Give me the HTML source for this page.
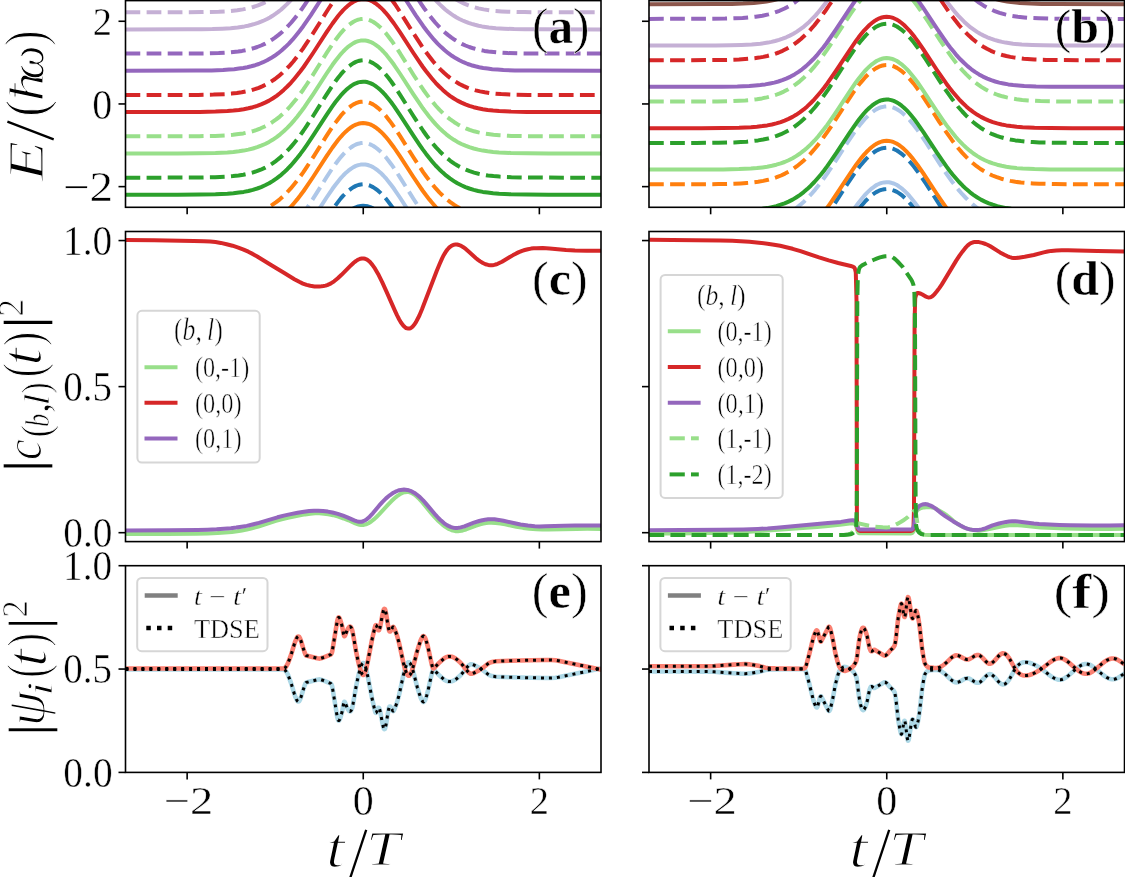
<!DOCTYPE html>
<html><head><meta charset="utf-8"><title>Figure</title>
<style>html,body{margin:0;padding:0;background:#fff;}svg{display:block;}
svg{will-change:transform}text{font-family:"Liberation Serif",serif;stroke:#fff;stroke-width:0.45px;}</style></head>
<body><svg width="1125" height="877" viewBox="0 0 1125 877"><defs><clipPath id="cl00"><rect x="125.50" y="0.60" width="475.50" height="206.70"/></clipPath><clipPath id="cl01"><rect x="125.50" y="231.50" width="475.50" height="310.10"/></clipPath><clipPath id="cl02"><rect x="125.50" y="565.70" width="475.50" height="206.70"/></clipPath><clipPath id="cl10"><rect x="649.00" y="0.60" width="475.50" height="206.70"/></clipPath><clipPath id="cl11"><rect x="649.00" y="231.50" width="475.50" height="310.10"/></clipPath><clipPath id="cl12"><rect x="649.00" y="565.70" width="475.50" height="206.70"/></clipPath></defs><rect width="1125" height="877" fill="#fff"/><g clip-path="url(#cl00)">
<path d="M125.5,12.3 179.8,12.3 202.0,12.1 218.7,11.7 225.0,11.4 231.0,11.0 237.3,10.3 242.9,9.4 248.0,8.4 253.2,7.0 258.0,5.4 262.3,3.6 266.7,1.5 271.0,-1.0 M455.5,-1.0 459.8,1.5 464.2,3.6 468.5,5.4 473.3,7.0 478.5,8.4 483.6,9.4 489.2,10.3 495.5,11.0 501.5,11.4 507.8,11.7 524.5,12.1 546.7,12.3 601.0,12.3" fill="none" stroke="#c5b0d5" stroke-width="4.00" stroke-dasharray="14.75 6.35" stroke-linejoin="round"/>
<path d="M125.5,53.6 192.5,53.6 207.6,53.4 218.7,53.1 229.4,52.4 238.1,51.5 242.1,50.9 246.1,50.1 249.6,49.3 253.2,48.3 257.2,47.0 261.1,45.5 264.7,43.9 268.3,42.0 271.8,39.8 275.0,37.6 278.6,34.9 281.8,32.2 284.9,29.2 288.1,26.0 291.3,22.5 294.8,18.2 298.0,14.1 301.6,9.3 305.2,4.1 308.6,-1.0 M417.9,-1.0 421.3,4.1 424.9,9.3 428.5,14.1 431.7,18.2 435.2,22.5 438.4,26.0 441.6,29.2 444.7,32.2 447.9,34.9 451.5,37.6 454.7,39.8 458.2,42.0 461.8,43.9 465.4,45.5 469.3,47.0 473.3,48.3 476.9,49.3 480.4,50.1 484.4,50.9 488.4,51.5 497.1,52.4 507.8,53.1 518.9,53.4 534.0,53.6 601.0,53.6" fill="none" stroke="#9467bd" stroke-width="4.00" stroke-dasharray="14.75 6.35" stroke-linejoin="round"/>
<path d="M125.5,95.0 176.7,95.0 198.1,94.9 213.5,94.6 225.4,94.1 231.4,93.6 236.9,93.0 241.7,92.3 246.5,91.4 250.8,90.4 254.8,89.2 258.8,87.8 262.7,86.1 267.1,84.0 271.0,81.6 275.0,79.0 278.6,76.2 282.5,72.8 286.1,69.4 289.7,65.6 293.3,61.5 296.4,57.5 299.6,53.3 302.8,48.9 306.3,43.7 312.7,33.9 327.4,10.5 331.3,4.5 335.2,-1.0 M391.3,-1.0 395.2,4.5 399.1,10.5 413.8,33.9 420.2,43.7 423.7,48.9 426.9,53.3 430.1,57.5 433.2,61.5 436.8,65.6 440.4,69.4 444.0,72.8 447.9,76.2 451.5,79.0 455.5,81.6 459.4,84.0 463.8,86.1 467.7,87.8 471.7,89.2 475.7,90.4 480.0,91.4 484.8,92.3 489.6,93.0 495.1,93.6 501.1,94.1 513.0,94.6 528.4,94.9 549.8,95.0 601.0,95.0" fill="none" stroke="#d62728" stroke-width="4.00" stroke-dasharray="14.75 6.35" stroke-linejoin="round"/>
<path d="M125.5,136.3 177.5,136.3 199.3,136.2 215.1,135.9 227.0,135.3 233.0,134.8 238.5,134.1 243.3,133.4 248.0,132.4 252.4,131.3 256.8,129.9 260.7,128.3 264.7,126.5 268.7,124.4 272.2,122.2 276.2,119.4 279.8,116.6 283.3,113.4 286.9,109.9 290.5,106.0 294.0,101.8 296.8,98.4 300.0,94.1 303.2,89.7 306.7,84.5 313.1,74.7 326.2,53.7 332.5,44.1 335.3,40.2 338.1,36.5 340.8,33.1 343.2,30.4 346.0,27.5 348.4,25.4 351.2,23.2 353.5,21.7 355.9,20.5 358.3,19.6 360.7,19.1 363.1,18.9 365.4,19.1 367.8,19.5 370.2,20.4 373.0,21.7 375.3,23.2 378.1,25.4 380.5,27.5 383.3,30.4 385.7,33.1 388.4,36.5 391.2,40.2 394.0,44.1 400.3,53.7 413.4,74.7 419.8,84.5 423.3,89.7 426.5,94.1 429.7,98.4 432.5,101.8 436.0,106.0 439.6,109.9 443.2,113.4 446.7,116.6 450.3,119.4 454.3,122.2 457.8,124.4 461.8,126.5 465.8,128.3 469.7,129.9 474.1,131.3 478.5,132.4 483.2,133.4 488.0,134.1 493.5,134.8 499.5,135.3 511.4,135.9 527.2,136.2 549.0,136.3 601.0,136.3" fill="none" stroke="#98df8a" stroke-width="4.00" stroke-dasharray="14.75 6.35" stroke-linejoin="round"/>
<path d="M125.5,177.7 177.5,177.6 199.3,177.5 215.1,177.2 227.0,176.6 233.0,176.1 238.5,175.5 243.3,174.7 248.0,173.7 252.4,172.6 256.8,171.2 260.7,169.7 264.7,167.9 268.7,165.8 272.2,163.6 276.2,160.8 279.8,157.9 283.3,154.7 286.9,151.2 290.5,147.4 294.0,143.2 296.8,139.7 300.0,135.5 303.2,131.0 306.7,125.8 313.1,116.0 326.2,95.1 332.5,85.5 335.3,81.5 338.1,77.8 340.8,74.4 343.2,71.7 346.0,68.9 348.4,66.7 351.2,64.6 353.5,63.1 355.9,61.9 358.3,61.0 360.7,60.5 363.1,60.3 365.4,60.4 367.8,60.9 370.2,61.7 373.0,63.1 375.3,64.6 378.1,66.7 380.5,68.9 383.3,71.7 385.7,74.4 388.4,77.8 391.2,81.5 394.0,85.5 400.3,95.1 413.4,116.0 419.8,125.8 423.3,131.0 426.5,135.5 429.7,139.7 432.5,143.2 436.0,147.4 439.6,151.2 443.2,154.7 446.7,157.9 450.3,160.8 454.3,163.6 457.8,165.8 461.8,167.9 465.8,169.7 469.7,171.2 474.1,172.6 478.5,173.7 483.2,174.7 488.0,175.5 493.5,176.1 499.5,176.6 511.4,177.2 527.2,177.5 549.0,177.6 601.0,177.7" fill="none" stroke="#2ca02c" stroke-width="4.00" stroke-dasharray="14.75 6.35" stroke-linejoin="round"/>
<path d="M125.5,219.0 177.5,219.0 199.3,218.9 215.1,218.6 227.0,218.0 233.0,217.5 238.5,216.8 243.3,216.0 248.0,215.1 252.4,213.9 256.8,212.5 260.7,211.0 264.7,209.2 268.7,207.1 272.2,204.9 276.2,202.1 279.8,199.3 283.3,196.1 286.9,192.6 290.5,188.7 294.0,184.5 296.8,181.0 300.0,176.8 303.2,172.4 306.7,167.1 313.1,157.3 326.2,136.4 332.5,126.8 335.3,122.9 338.1,119.2 340.8,115.7 343.2,113.0 346.0,110.2 348.4,108.1 351.2,105.9 353.5,104.4 355.9,103.2 358.3,102.3 360.7,101.8 363.1,101.6 365.4,101.7 367.8,102.2 370.2,103.0 373.0,104.4 375.3,105.9 378.1,108.1 380.5,110.2 383.3,113.0 385.7,115.7 388.4,119.2 391.2,122.9 394.0,126.8 400.3,136.4 413.4,157.3 419.8,167.1 423.3,172.4 426.5,176.8 429.7,181.0 432.5,184.5 436.0,188.7 439.6,192.6 443.2,196.1 446.7,199.3 450.3,202.1 454.3,204.9 457.8,207.1 461.8,209.2 465.8,211.0 469.7,212.5 474.1,213.9 478.5,215.1 483.2,216.0 488.0,216.8 493.5,217.5 499.5,218.0 511.4,218.6 527.2,218.9 549.0,219.0 601.0,219.0" fill="none" stroke="#ff7f0e" stroke-width="4.00" stroke-dasharray="14.75 6.35" stroke-linejoin="round"/>
<path d="M125.5,260.3 177.5,260.3 199.3,260.2 215.1,259.9 227.0,259.3 233.0,258.8 238.5,258.1 243.3,257.4 248.0,256.4 252.4,255.3 256.8,253.9 260.7,252.4 264.7,250.6 268.7,248.4 272.2,246.2 276.2,243.5 279.8,240.6 283.3,237.4 286.9,233.9 290.5,230.1 294.0,225.9 296.8,222.4 300.0,218.2 303.2,213.7 306.7,208.5 313.1,198.7 326.2,177.8 332.5,168.1 335.3,164.2 338.1,160.5 340.8,157.1 343.2,154.4 346.0,151.5 348.4,149.4 351.2,147.2 353.5,145.7 355.9,144.5 358.3,143.7 360.7,143.1 363.1,142.9 365.4,143.1 367.8,143.6 370.2,144.4 373.0,145.7 375.3,147.2 378.1,149.4 380.5,151.5 383.3,154.4 385.7,157.1 388.4,160.5 391.2,164.2 394.0,168.1 400.3,177.8 413.4,198.7 419.8,208.5 423.3,213.7 426.5,218.2 429.7,222.4 432.5,225.9 436.0,230.1 439.6,233.9 443.2,237.4 446.7,240.6 450.3,243.5 454.3,246.2 457.8,248.4 461.8,250.6 465.8,252.4 469.7,253.9 474.1,255.3 478.5,256.4 483.2,257.4 488.0,258.1 493.5,258.8 499.5,259.3 511.4,259.9 527.2,260.2 549.0,260.3 601.0,260.3" fill="none" stroke="#aec7e8" stroke-width="4.00" stroke-dasharray="14.75 6.35" stroke-linejoin="round"/>
<path d="M125.5,301.7 177.5,301.7 199.3,301.6 215.1,301.3 227.0,300.7 233.0,300.2 238.5,299.5 243.3,298.7 248.0,297.7 252.4,296.6 256.8,295.2 260.7,293.7 264.7,291.9 268.7,289.8 272.2,287.6 276.2,284.8 279.8,281.9 283.3,278.8 286.9,275.3 290.5,271.4 294.0,267.2 296.8,263.7 300.0,259.5 303.2,255.1 306.7,249.8 313.1,240.0 326.2,219.1 332.5,209.5 335.3,205.6 338.1,201.9 340.8,198.4 343.2,195.7 346.0,192.9 348.4,190.7 351.2,188.6 353.5,187.1 355.9,185.9 358.3,185.0 360.7,184.5 363.1,184.3 365.4,184.4 367.8,184.9 370.2,185.7 373.0,187.1 375.3,188.6 378.1,190.7 380.5,192.9 383.3,195.7 385.7,198.4 388.4,201.9 391.2,205.6 394.0,209.5 400.3,219.1 413.4,240.0 419.8,249.8 423.3,255.1 426.5,259.5 429.7,263.7 432.5,267.2 436.0,271.4 439.6,275.3 443.2,278.8 446.7,281.9 450.3,284.8 454.3,287.6 457.8,289.8 461.8,291.9 465.8,293.7 469.7,295.2 474.1,296.6 478.5,297.7 483.2,298.7 488.0,299.5 493.5,300.2 499.5,300.7 511.4,301.3 527.2,301.6 549.0,301.7 601.0,301.7" fill="none" stroke="#1f77b4" stroke-width="4.00" stroke-dasharray="14.75 6.35" stroke-linejoin="round"/>
<path d="M125.5,29.4 187.8,29.3 201.6,29.2 212.4,29.1 222.3,28.7 230.6,28.2 237.7,27.4 244.5,26.4 248.0,25.7 251.6,24.8 254.8,23.9 258.0,22.9 261.1,21.7 263.9,20.5 267.1,19.0 269.9,17.5 272.6,15.8 275.4,13.9 278.2,11.9 281.0,9.7 283.7,7.2 286.5,4.6 289.3,1.8 291.9,-1.0 M434.6,-1.0 437.2,1.8 440.0,4.6 442.8,7.2 445.5,9.7 448.3,11.9 451.1,13.9 453.9,15.8 456.6,17.5 459.4,19.0 462.6,20.5 465.4,21.7 468.5,22.9 471.7,23.9 474.9,24.8 478.5,25.7 482.0,26.4 488.8,27.4 495.9,28.2 504.2,28.7 514.1,29.1 524.9,29.2 538.7,29.3 601.0,29.4" fill="none" stroke="#c5b0d5" stroke-width="4.00" stroke-linejoin="round"/>
<path d="M125.5,70.7 196.1,70.6 211.6,70.4 223.1,70.0 229.0,69.6 234.2,69.2 238.9,68.6 243.3,68.0 247.3,67.2 251.2,66.3 255.2,65.2 258.8,64.0 263.1,62.2 267.1,60.3 271.0,58.1 274.6,55.8 278.2,53.2 281.8,50.3 285.3,47.1 288.9,43.6 292.5,39.7 296.0,35.5 299.6,31.0 303.2,26.2 306.7,21.1 310.7,15.3 321.3,-1.0 M405.2,-1.0 415.8,15.3 419.8,21.1 423.3,26.2 426.9,31.0 430.5,35.5 434.0,39.7 437.6,43.6 441.2,47.1 444.7,50.3 448.3,53.2 451.9,55.8 455.5,58.1 459.4,60.3 463.4,62.2 467.7,64.0 471.3,65.2 475.3,66.3 479.2,67.2 483.2,68.0 487.6,68.6 492.3,69.2 497.5,69.6 503.4,70.0 514.9,70.4 530.4,70.6 601.0,70.7" fill="none" stroke="#9467bd" stroke-width="4.00" stroke-linejoin="round"/>
<path d="M125.5,112.1 177.8,112.0 199.7,111.9 215.5,111.6 227.4,111.1 233.4,110.6 238.9,110.0 243.7,109.2 248.4,108.3 252.8,107.2 257.2,105.9 261.1,104.4 265.1,102.6 269.1,100.6 272.6,98.5 276.6,95.8 280.2,93.0 283.7,89.9 287.3,86.5 290.9,82.8 294.4,78.7 297.2,75.3 300.4,71.3 303.6,67.0 307.1,61.9 313.1,53.0 326.6,32.2 332.5,23.5 335.3,19.7 338.1,16.1 340.8,12.8 343.2,10.1 346.0,7.4 348.4,5.3 351.2,3.2 353.5,1.7 355.9,0.6 358.3,-0.3 360.7,-0.8 363.1,-1.0 365.4,-0.8 367.8,-0.4 370.2,0.4 373.0,1.7 375.3,3.2 378.1,5.3 380.5,7.4 383.3,10.1 385.7,12.8 388.4,16.1 391.2,19.7 394.0,23.5 399.9,32.2 413.4,53.0 419.4,61.9 422.9,67.0 426.1,71.3 429.3,75.3 432.1,78.7 435.6,82.8 439.2,86.5 442.8,89.9 446.3,93.0 449.9,95.8 453.9,98.5 457.4,100.6 461.4,102.6 465.4,104.4 469.3,105.9 473.7,107.2 478.1,108.3 482.8,109.2 487.6,110.0 493.1,110.6 499.1,111.1 511.0,111.6 526.8,111.9 548.7,112.0 601.0,112.1" fill="none" stroke="#d62728" stroke-width="4.00" stroke-linejoin="round"/>
<path d="M125.5,153.4 177.8,153.4 199.7,153.3 215.5,153.0 227.4,152.4 233.4,151.9 238.9,151.3 243.7,150.6 248.4,149.6 252.8,148.5 257.2,147.2 261.1,145.7 265.1,144.0 269.1,141.9 272.6,139.8 276.6,137.1 280.2,134.3 283.7,131.3 287.3,127.9 290.9,124.1 294.4,120.1 297.2,116.7 300.4,112.6 303.6,108.3 307.1,103.2 313.1,94.3 326.6,73.5 332.5,64.8 335.3,61.0 338.1,57.4 340.8,54.1 343.2,51.5 346.0,48.7 348.4,46.6 351.2,44.6 353.5,43.1 355.9,41.9 358.3,41.1 360.7,40.6 363.1,40.4 365.4,40.5 367.8,41.0 370.2,41.8 373.0,43.1 375.3,44.6 378.1,46.6 380.5,48.7 383.3,51.5 385.7,54.1 388.4,57.4 391.2,61.0 394.0,64.8 399.9,73.5 413.4,94.3 419.4,103.2 422.9,108.3 426.1,112.6 429.3,116.7 432.1,120.1 435.6,124.1 439.2,127.9 442.8,131.3 446.3,134.3 449.9,137.1 453.9,139.8 457.4,141.9 461.4,144.0 465.4,145.7 469.3,147.2 473.7,148.5 478.1,149.6 482.8,150.6 487.6,151.3 493.1,151.9 499.1,152.4 511.0,153.0 526.8,153.3 548.7,153.4 601.0,153.4" fill="none" stroke="#98df8a" stroke-width="4.00" stroke-linejoin="round"/>
<path d="M125.5,194.7 177.8,194.7 199.7,194.6 215.5,194.3 227.4,193.8 233.4,193.3 238.9,192.6 243.7,191.9 248.4,191.0 252.8,189.9 257.2,188.5 261.1,187.1 265.1,185.3 269.1,183.3 272.6,181.1 276.6,178.4 280.2,175.7 283.7,172.6 287.3,169.2 290.9,165.5 294.4,161.4 297.2,158.0 300.4,153.9 303.6,149.6 307.1,144.6 313.1,135.7 326.6,114.9 332.5,106.1 335.3,102.3 338.1,98.8 340.8,95.4 343.2,92.8 346.0,90.1 348.4,88.0 351.2,85.9 353.5,84.4 355.9,83.3 358.3,82.4 360.7,81.9 363.1,81.7 365.4,81.8 367.8,82.3 370.2,83.1 373.0,84.4 375.3,85.9 378.1,88.0 380.5,90.1 383.3,92.8 385.7,95.4 388.4,98.8 391.2,102.3 394.0,106.1 399.9,114.9 413.4,135.7 419.4,144.6 422.9,149.6 426.1,153.9 429.3,158.0 432.1,161.4 435.6,165.5 439.2,169.2 442.8,172.6 446.3,175.7 449.9,178.4 453.9,181.1 457.4,183.3 461.4,185.3 465.4,187.1 469.3,188.5 473.7,189.9 478.1,191.0 482.8,191.9 487.6,192.6 493.1,193.3 499.1,193.8 511.0,194.3 526.8,194.6 548.7,194.7 601.0,194.7" fill="none" stroke="#2ca02c" stroke-width="4.00" stroke-linejoin="round"/>
<path d="M125.5,236.1 177.8,236.1 199.7,236.0 215.5,235.7 227.4,235.1 233.4,234.6 238.9,234.0 243.7,233.2 248.4,232.3 252.8,231.2 257.2,229.9 261.1,228.4 265.1,226.7 269.1,224.6 272.6,222.5 276.6,219.8 280.2,217.0 283.7,213.9 287.3,210.5 290.9,206.8 294.4,202.7 297.2,199.4 300.4,195.3 303.6,191.0 307.1,185.9 313.1,177.0 326.6,156.2 332.5,147.5 335.3,143.7 338.1,140.1 340.8,136.8 343.2,134.2 346.0,131.4 348.4,129.3 351.2,127.2 353.5,125.8 355.9,124.6 358.3,123.8 360.7,123.2 363.1,123.1 365.4,123.2 367.8,123.7 370.2,124.4 373.0,125.8 375.3,127.2 378.1,129.3 380.5,131.4 383.3,134.2 385.7,136.8 388.4,140.1 391.2,143.7 394.0,147.5 399.9,156.2 413.4,177.0 419.4,185.9 422.9,191.0 426.1,195.3 429.3,199.4 432.1,202.7 435.6,206.8 439.2,210.5 442.8,213.9 446.3,217.0 449.9,219.8 453.9,222.5 457.4,224.6 461.4,226.7 465.4,228.4 469.3,229.9 473.7,231.2 478.1,232.3 482.8,233.2 487.6,234.0 493.1,234.6 499.1,235.1 511.0,235.7 526.8,236.0 548.7,236.1 601.0,236.1" fill="none" stroke="#ff7f0e" stroke-width="4.00" stroke-linejoin="round"/>
<path d="M125.5,277.4 177.8,277.4 199.7,277.3 215.5,277.0 227.4,276.4 233.4,276.0 238.9,275.3 243.7,274.6 248.4,273.6 252.8,272.6 257.2,271.2 261.1,269.7 265.1,268.0 269.1,265.9 272.6,263.8 276.6,261.1 280.2,258.4 283.7,255.3 287.3,251.9 290.9,248.1 294.4,244.1 297.2,240.7 300.4,236.6 303.6,232.3 307.1,227.2 313.1,218.4 326.6,197.5 332.5,188.8 335.3,185.0 338.1,181.4 340.8,178.1 343.2,175.5 346.0,172.7 348.4,170.7 351.2,168.6 353.5,167.1 355.9,165.9 358.3,165.1 360.7,164.6 363.1,164.4 365.4,164.5 367.8,165.0 370.2,165.8 373.0,167.1 375.3,168.6 378.1,170.7 380.5,172.7 383.3,175.5 385.7,178.1 388.4,181.4 391.2,185.0 394.0,188.8 399.9,197.5 413.4,218.4 419.4,227.2 422.9,232.3 426.1,236.6 429.3,240.7 432.1,244.1 435.6,248.1 439.2,251.9 442.8,255.3 446.3,258.4 449.9,261.1 453.9,263.8 457.4,265.9 461.4,268.0 465.4,269.7 469.3,271.2 473.7,272.6 478.1,273.6 482.8,274.6 487.6,275.3 493.1,276.0 499.1,276.4 511.0,277.0 526.8,277.3 548.7,277.4 601.0,277.4" fill="none" stroke="#aec7e8" stroke-width="4.00" stroke-linejoin="round"/>
<path d="M125.5,318.8 177.8,318.7 199.7,318.6 215.5,318.3 227.4,317.8 233.4,317.3 238.9,316.7 243.7,315.9 248.4,315.0 252.8,313.9 257.2,312.6 261.1,311.1 265.1,309.3 269.1,307.3 272.6,305.2 276.6,302.5 280.2,299.7 283.7,296.6 287.3,293.2 290.9,289.5 294.4,285.4 297.2,282.0 300.4,278.0 303.6,273.7 307.1,268.6 313.1,259.7 326.6,238.9 332.5,230.2 335.3,226.4 338.1,222.8 340.8,219.5 343.2,216.8 346.0,214.1 348.4,212.0 351.2,209.9 353.5,208.4 355.9,207.3 358.3,206.4 360.7,205.9 363.1,205.7 365.4,205.9 367.8,206.3 370.2,207.1 373.0,208.4 375.3,209.9 378.1,212.0 380.5,214.1 383.3,216.8 385.7,219.5 388.4,222.8 391.2,226.4 394.0,230.2 399.9,238.9 413.4,259.7 419.4,268.6 422.9,273.7 426.1,278.0 429.3,282.0 432.1,285.4 435.6,289.5 439.2,293.2 442.8,296.6 446.3,299.7 449.9,302.5 453.9,305.2 457.4,307.3 461.4,309.3 465.4,311.1 469.3,312.6 473.7,313.9 478.1,315.0 482.8,315.9 487.6,316.7 493.1,317.3 499.1,317.8 511.0,318.3 526.8,318.6 548.7,318.7 601.0,318.8" fill="none" stroke="#1f77b4" stroke-width="4.00" stroke-linejoin="round"/>
</g>
<g clip-path="url(#cl10)">
<path d="M649.0,18.9 701.7,18.8 725.1,18.6 734.7,18.3 742.6,18.0 749.3,17.4 755.7,16.7 762.4,15.7 768.4,14.4 773.9,12.8 779.5,10.8 784.6,8.5 789.8,5.7 794.5,2.6 799.2,-1.0 M974.3,-1.0 979.0,2.6 983.7,5.7 988.9,8.5 994.0,10.8 999.6,12.8 1005.1,14.4 1011.1,15.7 1017.8,16.7 1024.2,17.4 1030.9,18.0 1038.8,18.3 1048.4,18.6 1071.8,18.8 1124.5,18.9" fill="none" stroke="#9467bd" stroke-width="4.00" stroke-dasharray="14.75 6.35" stroke-linejoin="round"/>
<path d="M649.0,60.2 712.5,60.1 727.5,59.9 739.0,59.5 749.7,58.7 754.5,58.2 758.9,57.6 763.2,56.9 767.2,56.0 771.1,55.0 774.7,53.9 778.7,52.5 782.6,50.8 786.6,48.8 790.2,46.8 793.8,44.5 797.3,41.9 800.9,39.0 804.1,36.1 807.2,33.1 810.8,29.3 814.4,25.2 817.9,20.8 821.5,16.2 825.1,11.3 829.0,5.5 833.4,-1.0 M940.1,-1.0 944.5,5.5 948.4,11.3 952.0,16.2 955.6,20.8 959.1,25.2 962.7,29.3 966.3,33.1 969.4,36.1 972.6,39.0 976.2,41.9 979.7,44.5 983.3,46.8 986.9,48.8 990.9,50.8 994.8,52.5 998.8,53.9 1002.4,55.0 1006.3,56.0 1010.3,56.9 1014.6,57.6 1019.0,58.2 1023.8,58.7 1034.5,59.5 1046.0,59.9 1061.0,60.1 1124.5,60.2" fill="none" stroke="#d62728" stroke-width="4.00" stroke-dasharray="14.75 6.35" stroke-linejoin="round"/>
<path d="M649.0,101.6 695.8,101.5 717.2,101.4 733.1,101.1 745.4,100.4 751.3,99.9 756.9,99.2 762.0,98.4 766.8,97.4 771.1,96.3 775.5,95.0 779.9,93.3 783.8,91.6 787.8,89.5 791.8,87.1 795.7,84.4 799.7,81.3 803.7,77.8 807.2,74.4 810.8,70.6 814.8,66.1 817.5,62.7 820.7,58.6 826.7,50.3 833.4,40.3 845.7,21.2 850.9,13.4 856.4,5.5 861.4,-1.0 M912.1,-1.0 917.1,5.5 922.6,13.4 927.8,21.2 940.1,40.3 946.8,50.3 952.8,58.6 956.0,62.7 958.7,66.1 962.7,70.6 966.3,74.4 969.8,77.8 973.8,81.3 977.8,84.4 981.7,87.1 985.7,89.5 989.7,91.6 993.6,93.3 998.0,95.0 1002.4,96.3 1006.7,97.4 1011.5,98.4 1016.6,99.2 1022.2,99.9 1028.1,100.4 1040.4,101.1 1056.3,101.4 1077.7,101.5 1124.5,101.6" fill="none" stroke="#98df8a" stroke-width="4.00" stroke-dasharray="14.75 6.35" stroke-linejoin="round"/>
<path d="M649.0,142.9 696.6,142.9 718.4,142.7 734.3,142.4 740.6,142.1 746.6,141.7 752.5,141.1 758.1,140.4 763.2,139.5 768.0,138.5 772.3,137.3 776.7,135.9 781.1,134.2 785.0,132.3 789.0,130.2 793.0,127.7 796.9,124.8 800.5,122.0 804.1,118.8 807.6,115.3 811.2,111.5 815.2,107.0 818.3,103.0 821.5,98.9 828.3,89.4 834.2,80.4 847.7,59.5 854.0,50.1 857.2,45.7 860.0,42.1 862.8,38.7 865.5,35.6 868.3,32.8 871.1,30.4 873.9,28.3 876.2,26.7 879.0,25.4 881.4,24.5 884.2,23.9 886.6,23.7 888.9,23.8 891.7,24.4 894.1,25.2 896.9,26.5 899.6,28.3 902.4,30.4 905.2,32.8 908.0,35.6 910.7,38.7 913.5,42.1 916.3,45.7 919.5,50.1 925.8,59.5 939.3,80.4 945.2,89.4 952.0,98.9 955.2,103.0 958.3,107.0 962.3,111.5 965.9,115.3 969.4,118.8 973.0,122.0 976.6,124.8 980.5,127.7 984.5,130.2 988.5,132.3 992.4,134.2 996.8,135.9 1001.2,137.3 1005.5,138.5 1010.3,139.5 1015.4,140.4 1021.0,141.1 1026.9,141.7 1032.9,142.1 1039.2,142.4 1055.1,142.7 1076.9,142.9 1124.5,142.9" fill="none" stroke="#2ca02c" stroke-width="4.00" stroke-dasharray="14.75 6.35" stroke-linejoin="round"/>
<path d="M649.0,184.2 696.6,184.2 718.4,184.1 734.3,183.7 740.6,183.4 746.6,183.0 752.5,182.5 758.1,181.8 763.2,180.9 768.0,179.8 772.3,178.7 776.7,177.2 781.1,175.5 785.0,173.6 789.0,171.5 793.0,169.0 796.9,166.2 800.5,163.3 804.1,160.2 807.6,156.7 811.2,152.9 815.2,148.3 818.3,144.4 821.5,140.2 828.3,130.7 834.2,121.8 847.7,100.8 854.0,91.5 857.2,87.1 860.0,83.4 862.8,80.1 865.5,77.0 868.3,74.2 871.1,71.7 873.9,69.6 876.2,68.1 879.0,66.7 881.4,65.8 884.2,65.2 886.6,65.1 888.9,65.2 891.7,65.7 894.1,66.5 896.9,67.9 899.6,69.6 902.4,71.7 905.2,74.2 908.0,77.0 910.7,80.1 913.5,83.4 916.3,87.1 919.5,91.5 925.8,100.8 939.3,121.8 945.2,130.7 952.0,140.2 955.2,144.4 958.3,148.3 962.3,152.9 965.9,156.7 969.4,160.2 973.0,163.3 976.6,166.2 980.5,169.0 984.5,171.5 988.5,173.6 992.4,175.5 996.8,177.2 1001.2,178.7 1005.5,179.8 1010.3,180.9 1015.4,181.8 1021.0,182.5 1026.9,183.0 1032.9,183.4 1039.2,183.7 1055.1,184.1 1076.9,184.2 1124.5,184.2" fill="none" stroke="#ff7f0e" stroke-width="4.00" stroke-dasharray="14.75 6.35" stroke-linejoin="round"/>
<path d="M649.0,225.6 696.6,225.5 718.4,225.4 734.3,225.1 740.6,224.8 746.6,224.4 752.5,223.8 758.1,223.1 763.2,222.2 768.0,221.2 772.3,220.0 776.7,218.6 781.1,216.8 785.0,215.0 789.0,212.8 793.0,210.4 796.9,207.5 800.5,204.7 804.1,201.5 807.6,198.0 811.2,194.2 815.2,189.6 818.3,185.7 821.5,181.5 828.3,172.0 834.2,163.1 847.7,142.2 854.0,132.8 857.2,128.4 860.0,124.8 862.8,121.4 865.5,118.3 868.3,115.5 871.1,113.0 873.9,110.9 876.2,109.4 879.0,108.0 881.4,107.2 884.2,106.6 886.6,106.4 888.9,106.5 891.7,107.1 894.1,107.9 896.9,109.2 899.6,110.9 902.4,113.0 905.2,115.5 908.0,118.3 910.7,121.4 913.5,124.8 916.3,128.4 919.5,132.8 925.8,142.2 939.3,163.1 945.2,172.0 952.0,181.5 955.2,185.7 958.3,189.6 962.3,194.2 965.9,198.0 969.4,201.5 973.0,204.7 976.6,207.5 980.5,210.4 984.5,212.8 988.5,215.0 992.4,216.8 996.8,218.6 1001.2,220.0 1005.5,221.2 1010.3,222.2 1015.4,223.1 1021.0,223.8 1026.9,224.4 1032.9,224.8 1039.2,225.1 1055.1,225.4 1076.9,225.5 1124.5,225.6" fill="none" stroke="#aec7e8" stroke-width="4.00" stroke-dasharray="14.75 6.35" stroke-linejoin="round"/>
<path d="M649.0,266.9 696.6,266.9 718.4,266.8 734.3,266.4 740.6,266.1 746.6,265.7 752.5,265.2 758.1,264.4 763.2,263.6 768.0,262.5 772.3,261.3 776.7,259.9 781.1,258.2 785.0,256.3 789.0,254.2 793.0,251.7 796.9,248.9 800.5,246.0 804.1,242.8 807.6,239.4 811.2,235.6 815.2,231.0 818.3,227.0 821.5,222.9 828.3,213.4 834.2,204.4 847.7,183.5 854.0,174.1 857.2,169.7 860.0,166.1 862.8,162.7 865.5,159.6 868.3,156.8 871.1,154.4 873.9,152.3 876.2,150.8 879.0,149.4 881.4,148.5 884.2,147.9 886.6,147.7 888.9,147.9 891.7,148.4 894.1,149.2 896.9,150.5 899.6,152.3 902.4,154.4 905.2,156.8 908.0,159.6 910.7,162.7 913.5,166.1 916.3,169.7 919.5,174.1 925.8,183.5 939.3,204.4 945.2,213.4 952.0,222.9 955.2,227.0 958.3,231.0 962.3,235.6 965.9,239.4 969.4,242.8 973.0,246.0 976.6,248.9 980.5,251.7 984.5,254.2 988.5,256.3 992.4,258.2 996.8,259.9 1001.2,261.3 1005.5,262.5 1010.3,263.6 1015.4,264.4 1021.0,265.2 1026.9,265.7 1032.9,266.1 1039.2,266.4 1055.1,266.8 1076.9,266.9 1124.5,266.9" fill="none" stroke="#1f77b4" stroke-width="4.00" stroke-dasharray="14.75 6.35" stroke-linejoin="round"/>
<path d="M649.0,308.3 696.6,308.2 718.4,308.1 734.3,307.7 740.6,307.4 746.6,307.1 752.5,306.5 758.1,305.8 763.2,304.9 768.0,303.9 772.3,302.7 776.7,301.2 781.1,299.5 785.0,297.7 789.0,295.5 793.0,293.0 796.9,290.2 800.5,287.3 804.1,284.2 807.6,280.7 811.2,276.9 815.2,272.3 818.3,268.4 821.5,264.2 828.3,254.7 834.2,245.8 847.7,224.9 854.0,215.5 857.2,211.1 860.0,207.5 862.8,204.1 865.5,201.0 868.3,198.2 871.1,195.7 873.9,193.6 876.2,192.1 879.0,190.7 881.4,189.9 884.2,189.3 886.6,189.1 888.9,189.2 891.7,189.8 894.1,190.6 896.9,191.9 899.6,193.6 902.4,195.7 905.2,198.2 908.0,201.0 910.7,204.1 913.5,207.5 916.3,211.1 919.5,215.5 925.8,224.9 939.3,245.8 945.2,254.7 952.0,264.2 955.2,268.4 958.3,272.3 962.3,276.9 965.9,280.7 969.4,284.2 973.0,287.3 976.6,290.2 980.5,293.0 984.5,295.5 988.5,297.7 992.4,299.5 996.8,301.2 1001.2,302.7 1005.5,303.9 1010.3,304.9 1015.4,305.8 1021.0,306.5 1026.9,307.1 1032.9,307.4 1039.2,307.7 1055.1,308.1 1076.9,308.2 1124.5,308.3" fill="none" stroke="#1f77b4" stroke-width="4.00" stroke-dasharray="14.75 6.35" stroke-linejoin="round"/>
<path d="M649.0,4.2 716.8,4.1 731.9,3.9 743.0,3.6 753.7,3.0 762.4,2.1 766.4,1.5 770.4,0.8 773.9,-0.0 777.6,-1.0 M995.9,-1.0 999.6,-0.0 1003.1,0.8 1007.1,1.5 1011.1,2.1 1019.8,3.0 1030.5,3.6 1041.6,3.9 1056.7,4.1 1124.5,4.2" fill="none" stroke="#8c564b" stroke-width="4.00" stroke-linejoin="round"/>
<path d="M649.0,45.5 715.6,45.4 730.3,45.3 741.4,45.0 751.7,44.5 760.4,43.7 768.0,42.6 771.5,41.9 775.1,41.0 779.1,39.9 782.6,38.7 786.2,37.3 789.8,35.6 793.4,33.8 796.5,31.9 799.7,29.7 802.9,27.4 806.0,24.7 809.2,21.9 812.4,18.7 815.6,15.4 818.7,11.7 821.9,7.8 825.1,3.7 828.6,-1.0 M944.9,-1.0 948.4,3.7 951.6,7.8 954.8,11.7 957.9,15.4 961.1,18.7 964.3,21.9 967.5,24.7 970.6,27.4 973.8,29.7 977.0,31.9 980.1,33.8 983.7,35.6 987.3,37.3 990.9,38.7 994.4,39.9 998.4,41.0 1002.0,41.9 1005.5,42.6 1013.1,43.7 1021.8,44.5 1032.1,45.0 1043.2,45.3 1057.9,45.4 1124.5,45.5" fill="none" stroke="#c5b0d5" stroke-width="4.00" stroke-linejoin="round"/>
<path d="M649.0,86.8 722.0,86.7 737.4,86.5 749.3,86.0 755.3,85.5 760.4,85.0 765.2,84.4 770.0,83.5 774.3,82.6 778.3,81.5 782.3,80.2 786.2,78.6 790.6,76.6 794.5,74.4 798.5,71.9 802.1,69.3 806.0,66.1 809.6,62.8 813.2,59.3 816.8,55.4 819.9,51.6 823.1,47.7 826.3,43.5 829.8,38.5 836.2,29.2 850.1,8.1 856.4,-1.0 M917.1,-1.0 923.4,8.1 937.3,29.2 943.7,38.5 947.2,43.5 950.4,47.7 953.6,51.6 956.7,55.4 960.3,59.3 963.9,62.8 967.5,66.1 971.4,69.3 975.0,71.9 979.0,74.4 982.9,76.6 987.3,78.6 991.2,80.2 995.2,81.5 999.2,82.6 1003.5,83.5 1008.3,84.4 1013.1,85.0 1018.2,85.5 1024.2,86.0 1036.1,86.5 1051.5,86.7 1124.5,86.8" fill="none" stroke="#9467bd" stroke-width="4.00" stroke-linejoin="round"/>
<path d="M649.0,128.2 701.3,128.2 723.2,128.1 739.0,127.8 750.9,127.2 756.9,126.7 762.4,126.1 767.2,125.4 771.9,124.5 776.3,123.4 780.7,122.1 784.6,120.6 788.6,118.9 792.6,116.9 796.1,114.8 800.1,112.1 803.7,109.4 807.2,106.4 810.8,103.0 814.4,99.3 817.9,95.3 820.7,92.0 823.9,88.0 827.1,83.7 830.6,78.7 836.6,70.0 850.1,49.5 856.0,40.9 858.8,37.1 861.6,33.6 864.3,30.3 866.7,27.8 869.5,25.0 871.9,23.0 874.7,20.9 877.0,19.5 879.4,18.3 881.8,17.5 884.2,17.0 886.6,16.8 888.9,16.9 891.3,17.4 893.7,18.2 896.5,19.5 898.8,20.9 901.6,23.0 904.0,25.0 906.8,27.8 909.2,30.3 911.9,33.6 914.7,37.1 917.5,40.9 923.4,49.5 936.9,70.0 942.9,78.7 946.4,83.7 949.6,88.0 952.8,92.0 955.6,95.3 959.1,99.3 962.7,103.0 966.3,106.4 969.8,109.4 973.4,112.1 977.4,114.8 980.9,116.9 984.9,118.9 988.9,120.6 992.8,122.1 997.2,123.4 1001.6,124.5 1006.3,125.4 1011.1,126.1 1016.6,126.7 1022.6,127.2 1034.5,127.8 1050.3,128.1 1072.2,128.2 1124.5,128.2" fill="none" stroke="#d62728" stroke-width="4.00" stroke-linejoin="round"/>
<path d="M649.0,169.5 701.3,169.5 723.2,169.4 739.0,169.1 750.9,168.6 756.9,168.1 762.4,167.4 767.2,166.7 771.9,165.8 776.3,164.7 780.7,163.4 784.6,162.0 788.6,160.2 792.6,158.2 796.1,156.1 800.1,153.5 803.7,150.7 807.2,147.7 810.8,144.4 814.4,140.7 817.9,136.7 820.7,133.3 823.9,129.3 827.1,125.1 830.6,120.1 836.6,111.3 850.1,90.8 856.0,82.2 858.8,78.5 861.6,75.0 864.3,71.7 866.7,69.1 869.5,66.4 871.9,64.3 874.7,62.3 877.0,60.8 879.4,59.7 881.8,58.8 884.2,58.3 886.6,58.1 888.9,58.3 891.3,58.7 893.7,59.5 896.5,60.8 898.8,62.3 901.6,64.3 904.0,66.4 906.8,69.1 909.2,71.7 911.9,75.0 914.7,78.5 917.5,82.2 923.4,90.8 936.9,111.3 942.9,120.1 946.4,125.1 949.6,129.3 952.8,133.3 955.6,136.7 959.1,140.7 962.7,144.4 966.3,147.7 969.8,150.7 973.4,153.5 977.4,156.1 980.9,158.2 984.9,160.2 988.9,162.0 992.8,163.4 997.2,164.7 1001.6,165.8 1006.3,166.7 1011.1,167.4 1016.6,168.1 1022.6,168.6 1034.5,169.1 1050.3,169.4 1072.2,169.5 1124.5,169.5" fill="none" stroke="#98df8a" stroke-width="4.00" stroke-linejoin="round"/>
<path d="M649.0,210.9 701.3,210.8 723.2,210.7 739.0,210.5 750.9,209.9 756.9,209.4 762.4,208.8 767.2,208.1 771.9,207.1 776.3,206.1 780.7,204.7 784.6,203.3 788.6,201.6 792.6,199.6 796.1,197.5 800.1,194.8 803.7,192.1 807.2,189.1 810.8,185.7 814.4,182.0 817.9,178.0 820.7,174.7 823.9,170.7 827.1,166.4 830.6,161.4 836.6,152.7 850.1,132.1 856.0,123.6 858.8,119.8 861.6,116.3 864.3,113.0 866.7,110.4 869.5,107.7 871.9,105.7 874.7,103.6 877.0,102.2 879.4,101.0 881.8,100.2 884.2,99.7 886.6,99.5 888.9,99.6 891.3,100.1 893.7,100.9 896.5,102.2 898.8,103.6 901.6,105.7 904.0,107.7 906.8,110.4 909.2,113.0 911.9,116.3 914.7,119.8 917.5,123.6 923.4,132.1 936.9,152.7 942.9,161.4 946.4,166.4 949.6,170.7 952.8,174.7 955.6,178.0 959.1,182.0 962.7,185.7 966.3,189.1 969.8,192.1 973.4,194.8 977.4,197.5 980.9,199.6 984.9,201.6 988.9,203.3 992.8,204.7 997.2,206.1 1001.6,207.1 1006.3,208.1 1011.1,208.8 1016.6,209.4 1022.6,209.9 1034.5,210.5 1050.3,210.7 1072.2,210.8 1124.5,210.9" fill="none" stroke="#2ca02c" stroke-width="4.00" stroke-linejoin="round"/>
<path d="M649.0,252.2 701.3,252.2 723.2,252.1 739.0,251.8 750.9,251.2 756.9,250.8 762.4,250.1 767.2,249.4 771.9,248.5 776.3,247.4 780.7,246.1 784.6,244.6 788.6,242.9 792.6,240.9 796.1,238.8 800.1,236.1 803.7,233.4 807.2,230.4 810.8,227.0 814.4,223.4 817.9,219.4 820.7,216.0 823.9,212.0 827.1,207.8 830.6,202.8 836.6,194.0 850.1,173.5 856.0,164.9 858.8,161.2 861.6,157.6 864.3,154.4 866.7,151.8 869.5,149.1 871.9,147.0 874.7,144.9 877.0,143.5 879.4,142.4 881.8,141.5 884.2,141.0 886.6,140.8 888.9,141.0 891.3,141.4 893.7,142.2 896.5,143.5 898.8,144.9 901.6,147.0 904.0,149.1 906.8,151.8 909.2,154.4 911.9,157.6 914.7,161.2 917.5,164.9 923.4,173.5 936.9,194.0 942.9,202.8 946.4,207.8 949.6,212.0 952.8,216.0 955.6,219.4 959.1,223.4 962.7,227.0 966.3,230.4 969.8,233.4 973.4,236.1 977.4,238.8 980.9,240.9 984.9,242.9 988.9,244.6 992.8,246.1 997.2,247.4 1001.6,248.5 1006.3,249.4 1011.1,250.1 1016.6,250.8 1022.6,251.2 1034.5,251.8 1050.3,252.1 1072.2,252.2 1124.5,252.2" fill="none" stroke="#ff7f0e" stroke-width="4.00" stroke-linejoin="round"/>
<path d="M649.0,293.5 701.3,293.5 723.2,293.4 739.0,293.1 750.9,292.6 756.9,292.1 762.4,291.5 767.2,290.7 771.9,289.8 776.3,288.7 780.7,287.4 784.6,286.0 788.6,284.3 792.6,282.2 796.1,280.1 800.1,277.5 803.7,274.8 807.2,271.7 810.8,268.4 814.4,264.7 817.9,260.7 820.7,257.4 823.9,253.3 827.1,249.1 830.6,244.1 836.6,235.3 850.1,214.8 856.0,206.2 858.8,202.5 861.6,199.0 864.3,195.7 866.7,193.1 869.5,190.4 871.9,188.3 874.7,186.3 877.0,184.8 879.4,183.7 881.8,182.9 884.2,182.4 886.6,182.2 888.9,182.3 891.3,182.8 893.7,183.5 896.5,184.8 898.8,186.3 901.6,188.3 904.0,190.4 906.8,193.1 909.2,195.7 911.9,199.0 914.7,202.5 917.5,206.2 923.4,214.8 936.9,235.3 942.9,244.1 946.4,249.1 949.6,253.3 952.8,257.4 955.6,260.7 959.1,264.7 962.7,268.4 966.3,271.7 969.8,274.8 973.4,277.5 977.4,280.1 980.9,282.2 984.9,284.3 988.9,286.0 992.8,287.4 997.2,288.7 1001.6,289.8 1006.3,290.7 1011.1,291.5 1016.6,292.1 1022.6,292.6 1034.5,293.1 1050.3,293.4 1072.2,293.5 1124.5,293.5" fill="none" stroke="#aec7e8" stroke-width="4.00" stroke-linejoin="round"/>
</g>
<g clip-path="url(#cl01)">
<path d="M125.5,534.0 166.8,534.0 195.9,533.7 207.6,533.4 217.6,533.0 225.0,532.5 231.9,531.9 237.2,531.3 242.0,530.5 246.8,529.6 251.0,528.6 258.4,526.5 275.9,520.9 281.7,519.3 288.0,517.8 297.6,515.8 305.0,514.4 310.3,513.7 315.1,513.3 319.3,513.3 324.1,513.7 328.3,514.3 333.1,515.2 338.3,516.7 343.6,518.5 348.4,520.3 355.3,523.4 357.9,524.3 359.5,524.7 361.1,525.0 362.7,525.0 363.8,524.9 365.9,524.4 368.5,523.2 371.2,521.5 373.8,519.4 376.5,517.0 379.1,514.4 388.1,504.6 391.3,501.3 394.5,498.3 397.1,496.1 399.8,494.3 402.4,493.0 404.0,492.4 405.1,492.2 407.2,492.0 408.8,492.1 409.8,492.4 411.9,493.2 413.0,493.8 414.6,494.8 417.2,497.0 419.4,499.1 422.0,502.0 431.0,512.9 434.7,517.2 438.4,521.0 442.1,524.4 445.3,526.8 448.5,528.8 450.1,529.5 451.7,530.2 454.3,530.9 455.9,531.2 458.0,531.2 459.6,531.1 461.7,530.8 463.8,530.2 466.0,529.5 475.5,525.8 480.2,524.3 483.4,523.6 486.1,523.1 488.7,522.8 491.4,522.7 495.6,522.9 500.4,523.5 505.1,524.4 516.3,526.7 523.1,527.9 529.5,528.7 536.4,529.2 542.2,529.5 548.6,529.5 576.6,528.9 587.2,528.8 601.5,528.9" fill="none" stroke="#98df8a" stroke-width="4.00" stroke-linejoin="round"/>
<path d="M125.5,240.1 154.1,240.3 193.8,240.9 203.9,241.2 210.2,241.5 215.5,242.1 220.8,242.9 226.6,244.2 232.5,245.7 238.3,247.6 243.6,249.6 248.3,251.7 252.6,253.9 256.8,256.3 270.6,264.8 284.3,273.0 294.4,279.2 299.2,281.8 302.9,283.6 306.6,284.9 310.3,285.8 314.5,286.4 317.2,286.5 319.3,286.5 321.4,286.3 323.5,286.0 325.6,285.6 327.2,285.1 329.3,284.2 330.9,283.4 334.1,281.3 337.8,278.3 341.5,274.8 351.1,265.2 353.7,262.8 355.8,261.1 357.4,260.1 358.5,259.5 360.6,258.7 361.6,258.5 362.7,258.4 363.8,258.5 364.8,258.7 366.4,259.3 367.5,259.9 368.5,260.7 369.6,261.6 370.6,262.7 372.2,264.6 374.9,268.4 378.1,273.9 382.3,282.4 386.5,291.6 395.0,310.9 397.1,315.4 399.2,319.5 400.8,322.2 401.9,323.7 402.9,325.1 404.0,326.3 405.1,327.3 406.1,328.0 407.2,328.4 408.2,328.6 409.3,328.5 410.4,328.2 411.4,327.6 412.5,326.7 413.5,325.6 414.6,324.2 415.7,322.6 417.2,319.8 419.4,315.5 422.0,309.3 436.8,270.8 439.5,264.3 442.1,258.4 443.7,255.2 444.8,253.4 445.8,251.7 447.4,249.5 448.5,248.3 450.1,246.8 451.1,246.1 452.7,245.2 453.8,244.8 454.8,244.6 455.9,244.5 457.0,244.5 459.1,245.0 461.2,245.9 463.3,247.2 466.0,249.2 468.6,251.5 476.0,258.2 478.1,259.9 480.2,261.4 482.9,263.0 485.5,264.2 488.2,264.9 490.3,265.2 491.9,265.2 494.0,264.9 495.6,264.5 497.7,263.8 499.8,262.8 502.0,261.7 513.1,255.1 516.3,253.4 518.9,252.1 522.1,250.8 524.7,250.0 527.9,249.2 531.1,248.6 533.7,248.3 536.4,248.2 542.7,248.1 549.6,248.5 566.0,249.9 575.0,250.4 586.7,250.7 601.5,250.7" fill="none" stroke="#d62728" stroke-width="4.00" stroke-linejoin="round"/>
<path d="M125.5,530.4 169.4,530.3 197.5,530.0 207.6,529.7 216.6,529.3 224.0,528.8 230.9,528.2 236.2,527.6 241.5,526.8 246.8,525.9 251.5,524.8 258.9,522.9 277.5,517.3 283.8,515.6 290.7,514.1 297.6,512.7 303.9,511.7 309.2,511.1 314.0,510.7 318.2,510.7 323.0,511.0 327.8,511.6 332.5,512.5 337.8,513.9 343.1,515.7 347.4,517.3 354.2,520.3 356.4,521.1 357.9,521.5 359.0,521.7 360.6,521.8 361.6,521.7 363.2,521.3 365.4,520.2 366.9,519.1 369.1,517.3 370.6,515.7 372.8,513.3 379.1,505.7 382.3,502.1 386.0,498.4 389.7,495.3 391.8,493.8 393.4,492.8 395.5,491.7 397.1,491.0 399.2,490.2 400.8,489.9 402.4,489.7 404.0,489.6 405.6,489.7 407.2,489.9 408.8,490.3 410.4,490.8 411.9,491.5 413.5,492.4 415.1,493.3 416.7,494.5 419.9,497.1 423.1,500.3 426.2,503.9 435.8,515.2 438.4,518.0 441.1,520.6 444.2,523.3 447.4,525.4 449.0,526.2 450.6,526.9 452.2,527.4 453.8,527.8 455.4,527.9 457.0,527.9 458.5,527.8 460.7,527.4 464.4,526.4 473.9,522.7 479.2,521.0 482.4,520.2 485.0,519.7 488.2,519.3 490.8,519.2 494.5,519.3 498.8,519.9 503.5,520.8 514.7,523.3 520.5,524.5 527.9,525.6 534.8,526.2 539.6,526.4 545.4,526.3 563.9,525.7 575.0,525.4 586.1,525.4 601.5,525.5" fill="none" stroke="#9467bd" stroke-width="4.00" stroke-linejoin="round"/>
</g>
<g clip-path="url(#cl11)">
<path d="M649.3,533.4 675.2,533.4 712.2,533.1 727.0,532.8 739.2,532.4 763.9,530.8 817.1,527.0 825.5,526.2 839.9,524.8 849.6,523.6 852.1,523.4 853.3,523.5 854.0,523.7 854.6,524.0 855.3,524.7 855.8,525.5 856.2,526.4 857.0,529.8 857.9,532.1 858.3,532.7 858.6,533.0 859.4,533.3 911.1,533.4 912.0,533.1 912.5,532.7 913.4,531.5 913.7,530.6 913.9,529.4 914.5,521.2 914.7,519.4 915.9,513.1 916.3,512.1 916.8,511.0 917.6,510.0 918.3,509.4 919.2,508.9 920.3,508.4 922.0,507.9 924.2,507.4 925.9,507.2 927.9,507.1 930.9,507.3 933.4,507.7 935.5,508.5 938.6,510.2 943.3,513.0 947.0,515.5 949.0,517.1 953.3,520.8 956.9,523.5 960.1,525.5 962.9,527.1 965.7,528.2 968.6,529.1 971.7,529.8 976.7,530.6 977.9,530.7 979.1,530.7 982.6,530.2 990.5,528.7 1001.2,526.5 1005.2,525.8 1009.4,525.3 1013.9,525.1 1017.6,525.2 1021.9,525.4 1035.8,527.0 1040.5,527.4 1053.8,528.1 1064.0,528.5 1077.3,528.8 1094.8,528.9 1110.0,528.9 1124.4,528.7" fill="none" stroke="#98df8a" stroke-width="4.00" stroke-linejoin="round"/>
<path d="M649.3,239.8 695.7,240.2 720.2,240.5 732.2,240.8 740.7,241.2 749.5,241.8 758.9,242.7 767.4,243.7 774.0,244.7 780.2,245.8 786.3,247.2 792.6,248.8 800.5,251.2 819.0,257.4 828.7,260.4 838.2,263.0 851.8,266.2 853.3,266.9 854.0,267.3 854.4,267.8 854.8,268.4 855.2,269.8 855.6,271.5 855.8,272.8 856.5,300.2 856.9,519.5 857.5,527.2 857.7,528.7 858.1,529.5 858.9,530.4 859.7,530.8 860.7,530.9 910.4,530.9 911.4,530.8 912.2,530.4 913.0,529.5 913.3,528.6 913.5,527.2 914.0,508.9 914.6,320.2 915.2,298.7 915.4,297.4 916.1,295.0 916.5,293.9 916.8,293.3 917.3,293.1 918.0,293.0 919.4,293.3 920.9,293.7 922.4,294.5 926.1,296.7 927.2,297.1 928.2,297.4 929.4,297.4 930.6,297.2 932.0,296.5 933.1,295.6 934.7,294.0 936.9,291.3 939.3,288.1 941.7,284.6 945.5,278.4 956.2,260.6 959.5,255.6 962.6,251.4 965.9,247.3 967.1,246.0 968.4,244.9 969.8,243.8 971.1,243.1 972.5,242.5 973.9,242.1 976.1,241.9 978.9,242.1 982.3,242.9 985.6,244.0 987.9,245.0 990.3,246.3 1000.0,252.4 1004.9,255.0 1007.6,256.3 1009.7,257.1 1011.6,257.7 1013.6,258.0 1015.6,257.9 1018.6,257.7 1024.7,256.8 1033.8,255.0 1043.7,252.4 1047.6,251.5 1051.3,250.9 1056.3,250.4 1061.8,250.2 1068.0,250.2 1097.3,251.0 1124.4,251.5" fill="none" stroke="#d62728" stroke-width="4.00" stroke-linejoin="round"/>
<path d="M649.3,530.2 681.7,530.1 719.5,529.8 743.2,529.4 758.0,528.9 767.5,528.4 776.7,527.7 828.0,523.1 840.9,521.9 849.6,520.5 852.6,520.3 853.5,520.3 854.2,520.5 854.8,520.8 855.5,521.5 855.9,522.1 856.2,522.8 857.3,526.4 857.9,527.7 858.4,528.6 858.9,529.1 859.2,529.4 859.9,529.5 911.1,529.6 911.9,529.3 912.5,528.9 913.3,527.7 913.8,526.5 915.3,514.9 916.3,510.5 916.9,508.9 917.6,507.9 918.4,506.9 919.1,506.2 920.1,505.5 921.2,505.0 922.4,504.5 923.6,504.3 924.8,504.1 926.6,504.3 928.5,504.8 930.6,505.6 932.6,506.6 935.3,508.4 942.1,513.9 945.5,516.4 953.3,521.4 960.5,525.5 964.3,527.5 967.0,528.6 969.9,529.4 972.9,529.9 975.1,530.1 977.3,530.0 979.6,529.8 981.8,529.4 984.0,528.8 985.9,528.2 992.5,525.4 999.0,523.5 1002.7,522.6 1006.1,521.9 1009.1,521.5 1012.1,521.3 1015.3,521.3 1019.8,521.7 1033.9,523.5 1039.1,524.0 1059.4,524.9 1070.1,525.2 1091.9,525.4 1109.1,525.4 1124.6,525.2" fill="none" stroke="#9467bd" stroke-width="4.00" stroke-linejoin="round"/>
<path d="M649.4,535.0 842.2,535.0 845.5,534.9 848.2,534.5 849.4,534.3 850.3,533.9 851.4,533.0 852.5,531.9 853.2,530.9 854.9,526.8 856.1,524.9 856.8,524.0 857.2,523.7 857.9,523.5 858.8,523.5 859.8,523.6 869.0,525.8 871.5,526.2 874.7,526.6 882.7,527.3 886.4,527.5 888.7,527.3 891.1,526.7 893.9,525.6 897.2,523.9 901.1,521.7 904.3,519.7 906.1,518.4 907.9,517.0 910.4,514.6 913.7,511.2 914.1,510.9 914.4,510.9 914.8,511.1 915.2,511.8 915.8,513.2 916.2,514.4 917.5,524.0 918.9,529.8 919.4,531.5 920.1,532.5 921.4,533.5 922.9,534.4 924.0,534.7 928.8,534.9 931.8,535.0 1124.4,535.0" fill="none" stroke="#98df8a" stroke-width="4.00" stroke-dasharray="14.75 6.35" stroke-linejoin="round"/>
<path d="M649.4,535.0 828.5,535.0 843.7,534.9 848.2,534.6 850.4,534.3 851.6,533.9 852.5,533.5 853.3,532.9 854.0,532.2 854.7,531.2 855.2,530.1 855.9,528.0 856.2,526.3 856.8,500.5 857.3,301.0 857.8,278.0 857.9,275.3 858.7,270.6 859.2,268.7 859.6,267.8 860.1,267.0 860.8,266.3 861.8,265.6 864.2,264.2 867.8,262.4 873.3,260.0 877.2,258.4 880.0,257.4 883.7,256.5 885.4,256.2 887.4,256.1 889.1,256.2 890.8,256.6 892.4,257.2 893.9,258.2 895.7,259.6 897.6,261.5 901.2,265.3 903.0,267.4 904.4,269.5 910.7,278.8 912.0,281.0 912.8,283.0 913.5,285.2 914.2,290.4 914.4,293.6 915.0,320.8 915.6,498.8 916.0,522.6 916.1,525.3 916.8,528.5 917.5,530.3 918.6,532.0 919.4,532.8 920.5,533.5 921.3,534.0 922.5,534.3 925.2,534.8 930.2,535.0 1124.6,535.0" fill="none" stroke="#2ca02c" stroke-width="4.00" stroke-dasharray="14.75 6.35" stroke-linejoin="round"/>
</g>
<g clip-path="url(#cl02)">
<path d="M125.5,669.5 283.7,669.5 284.3,669.7 284.8,670.0 285.8,671.1 286.9,672.8 288.0,674.9 289.5,678.9 291.4,684.1 294.3,693.8 295.4,696.9 296.7,699.9 297.5,701.1 298.0,701.5 298.5,701.5 299.1,701.2 299.6,700.4 300.1,699.4 301.2,696.5 302.8,691.1 304.6,685.6 305.4,683.6 306.0,682.7 306.2,682.5 317.3,679.7 318.7,679.5 319.7,679.4 321.0,679.7 322.6,680.2 329.2,682.8 330.6,683.4 331.1,683.8 331.6,684.7 331.9,685.4 332.4,687.5 337.2,716.8 338.0,719.6 338.2,720.2 338.5,720.5 338.8,720.6 339.0,720.5 339.3,720.2 339.8,719.2 340.3,717.9 341.1,715.4 342.2,711.4 343.5,704.1 344.1,702.2 344.3,701.8 344.6,701.9 345.1,702.6 347.0,707.5 348.0,709.3 349.1,710.8 349.6,711.3 349.9,711.4 350.4,711.3 350.9,710.8 351.5,709.8 352.3,707.5 353.0,704.2 356.0,687.0 357.8,678.3 359.1,672.8 360.5,668.1 361.5,665.3 362.0,664.2 362.6,663.4 362.8,663.2 363.4,663.0 363.9,663.3 364.7,664.5 365.5,666.6 366.3,669.5 367.6,675.6 372.1,698.7 374.0,707.0 375.3,712.2 375.5,712.7 375.8,712.9 376.1,712.8 376.6,712.0 377.7,709.3 378.2,708.1 378.4,707.8 378.7,707.7 379.0,707.9 379.2,708.3 379.8,709.8 380.3,711.9 382.4,723.1 383.2,726.6 383.7,728.3 384.0,728.8 384.3,729.1 384.5,729.2 384.8,729.0 385.1,728.4 385.9,725.4 388.0,712.6 388.5,709.8 389.0,707.7 389.3,707.0 389.6,706.6 389.8,706.5 390.1,706.5 390.4,706.7 390.9,707.5 392.5,710.5 393.0,711.0 393.3,711.1 393.5,710.9 393.8,710.6 394.9,708.3 395.9,705.6 397.0,702.5 398.8,696.0 400.1,690.4 403.3,675.5 404.9,669.3 406.0,666.1 406.8,664.3 407.6,663.0 408.3,662.3 408.6,662.2 409.1,662.3 409.9,663.0 410.7,664.2 411.5,666.0 412.3,668.4 413.4,672.1 417.3,687.4 419.5,694.3 420.5,697.3 421.6,699.7 422.6,701.4 423.2,701.9 423.4,701.9 423.7,701.9 424.2,701.5 425.0,700.3 425.8,698.4 426.6,695.9 428.2,689.8 431.9,673.0 432.7,670.4 433.0,669.9 433.2,669.6 433.5,669.6 434.5,670.4 438.8,674.9 442.5,678.2 444.6,680.0 445.7,680.6 447.0,681.1 448.3,681.4 449.9,681.5 451.7,681.3 453.6,680.6 455.2,679.7 457.3,678.2 459.4,676.3 461.8,673.9 463.1,672.3 466.0,668.5 468.4,665.8 469.7,664.7 470.5,664.3 471.1,664.2 472.1,664.3 474.0,665.0 479.5,668.1 483.0,670.3 488.0,674.3 489.3,675.1 490.9,675.7 493.3,676.3 495.9,676.7 510.0,677.3 531.4,677.8 545.4,678.0 551.0,678.0 555.5,677.7 558.4,677.3 561.8,676.6 590.9,670.6 601.5,668.2" fill="none" stroke="#add8e6" stroke-width="4.60" stroke-linejoin="round"/>
<path d="M125.5,668.5 283.7,668.5 284.3,668.3 284.8,668.0 285.8,666.9 286.9,665.2 288.0,663.1 289.5,659.1 291.4,653.9 294.3,644.2 295.4,641.1 296.7,638.1 297.5,636.9 298.0,636.5 298.5,636.5 299.1,636.8 299.6,637.6 300.1,638.6 301.2,641.5 302.8,646.9 304.6,652.4 305.4,654.4 306.0,655.3 306.2,655.5 317.3,658.3 318.7,658.5 319.7,658.6 321.0,658.3 322.6,657.8 329.2,655.2 330.6,654.6 331.1,654.2 331.6,653.3 331.9,652.6 332.4,650.5 337.2,621.2 338.0,618.4 338.2,617.8 338.5,617.5 338.8,617.4 339.0,617.5 339.3,617.8 339.8,618.8 340.3,620.1 341.1,622.6 342.2,626.6 343.5,633.9 344.1,635.8 344.3,636.2 344.6,636.1 345.1,635.4 347.0,630.5 348.0,628.7 349.1,627.2 349.6,626.7 349.9,626.6 350.4,626.7 350.9,627.2 351.5,628.2 352.3,630.5 353.0,633.8 356.0,651.0 357.8,659.7 359.1,665.2 360.5,669.9 361.5,672.7 362.0,673.8 362.6,674.6 362.8,674.8 363.4,675.0 363.9,674.7 364.7,673.5 365.5,671.4 366.3,668.5 367.6,662.4 372.1,639.3 374.0,631.0 375.3,625.8 375.5,625.3 375.8,625.1 376.1,625.2 376.6,626.0 377.7,628.7 378.2,629.9 378.4,630.2 378.7,630.3 379.0,630.1 379.2,629.7 379.8,628.2 380.3,626.1 382.4,614.9 383.2,611.4 383.7,609.7 384.0,609.2 384.3,608.9 384.5,608.8 384.8,609.0 385.1,609.6 385.9,612.6 388.0,625.4 388.5,628.2 389.0,630.3 389.3,631.0 389.6,631.4 389.8,631.5 390.1,631.5 390.4,631.3 390.9,630.5 392.5,627.5 393.0,627.0 393.3,626.9 393.5,627.1 393.8,627.4 394.9,629.7 395.9,632.4 397.0,635.5 398.8,642.0 400.1,647.6 403.3,662.5 404.9,668.7 406.0,671.9 406.8,673.7 407.6,675.0 408.3,675.7 408.6,675.8 409.1,675.7 409.9,675.0 410.7,673.8 411.5,672.0 412.3,669.6 413.4,665.9 417.3,650.6 419.5,643.7 420.5,640.7 421.6,638.3 422.6,636.6 423.2,636.1 423.4,636.1 423.7,636.1 424.2,636.5 425.0,637.7 425.8,639.6 426.6,642.1 428.2,648.2 431.9,665.0 432.7,667.6 433.0,668.1 433.2,668.4 433.5,668.4 434.5,667.6 438.8,663.1 442.5,659.8 444.6,658.0 445.7,657.4 447.0,656.9 448.3,656.6 449.9,656.5 451.7,656.7 453.6,657.4 455.2,658.3 457.3,659.8 459.4,661.7 461.8,664.1 463.1,665.7 466.0,669.5 468.4,672.2 469.7,673.3 470.5,673.7 471.1,673.8 472.1,673.7 474.0,673.0 479.5,669.9 483.0,667.7 488.0,663.7 489.3,662.9 490.9,662.3 493.3,661.7 495.9,661.3 510.0,660.7 531.4,660.2 545.4,660.0 551.0,660.0 555.5,660.3 558.4,660.7 561.8,661.4 590.9,667.4 601.5,669.8" fill="none" stroke="#fa8072" stroke-width="4.60" stroke-linejoin="round"/>
<path d="M125.5,668.5 283.7,668.5 284.3,668.3 284.8,668.0 285.8,666.9 286.9,665.2 288.0,663.1 289.5,659.1 291.4,653.9 294.3,644.2 295.4,641.1 296.7,638.1 297.5,636.9 298.0,636.5 298.5,636.5 299.1,636.8 299.6,637.6 300.1,638.6 301.2,641.5 302.8,646.9 304.6,652.4 305.4,654.4 306.0,655.3 306.2,655.5 317.3,658.3 318.7,658.5 319.7,658.6 321.0,658.3 322.6,657.8 329.2,655.2 330.6,654.6 331.1,654.2 331.6,653.3 331.9,652.6 332.4,650.5 337.2,621.2 338.0,618.4 338.2,617.8 338.5,617.5 338.8,617.4 339.0,617.5 339.3,617.8 339.8,618.8 340.3,620.1 341.1,622.6 342.2,626.6 343.5,633.9 344.1,635.8 344.3,636.2 344.6,636.1 345.1,635.4 347.0,630.5 348.0,628.7 349.1,627.2 349.6,626.7 349.9,626.6 350.4,626.7 350.9,627.2 351.5,628.2 352.3,630.5 353.0,633.8 356.0,651.0 357.8,659.7 359.1,665.2 360.5,669.9 361.5,672.7 362.0,673.8 362.6,674.6 362.8,674.8 363.4,675.0 363.9,674.7 364.7,673.5 365.5,671.4 366.3,668.5 367.6,662.4 372.1,639.3 374.0,631.0 375.3,625.8 375.5,625.3 375.8,625.1 376.1,625.2 376.6,626.0 377.7,628.7 378.2,629.9 378.4,630.2 378.7,630.3 379.0,630.1 379.2,629.7 379.8,628.2 380.3,626.1 382.4,614.9 383.2,611.4 383.7,609.7 384.0,609.2 384.3,608.9 384.5,608.8 384.8,609.0 385.1,609.6 385.9,612.6 388.0,625.4 388.5,628.2 389.0,630.3 389.3,631.0 389.6,631.4 389.8,631.5 390.1,631.5 390.4,631.3 390.9,630.5 392.5,627.5 393.0,627.0 393.3,626.9 393.5,627.1 393.8,627.4 394.9,629.7 395.9,632.4 397.0,635.5 398.8,642.0 400.1,647.6 403.3,662.5 404.9,668.7 406.0,671.9 406.8,673.7 407.6,675.0 408.3,675.7 408.6,675.8 409.1,675.7 409.9,675.0 410.7,673.8 411.5,672.0 412.3,669.6 413.4,665.9 417.3,650.6 419.5,643.7 420.5,640.7 421.6,638.3 422.6,636.6 423.2,636.1 423.4,636.1 423.7,636.1 424.2,636.5 425.0,637.7 425.8,639.6 426.6,642.1 428.2,648.2 431.9,665.0 432.7,667.6 433.0,668.1 433.2,668.4 433.5,668.4 434.5,667.6 438.8,663.1 442.5,659.8 444.6,658.0 445.7,657.4 447.0,656.9 448.3,656.6 449.9,656.5 451.7,656.7 453.6,657.4 455.2,658.3 457.3,659.8 459.4,661.7 461.8,664.1 463.1,665.7 466.0,669.5 468.4,672.2 469.7,673.3 470.5,673.7 471.1,673.8 472.1,673.7 474.0,673.0 479.5,669.9 483.0,667.7 488.0,663.7 489.3,662.9 490.9,662.3 493.3,661.7 495.9,661.3 510.0,660.7 531.4,660.2 545.4,660.0 551.0,660.0 555.5,660.3 558.4,660.7 561.8,661.4 590.9,667.4 601.5,669.8" fill="none" stroke="#000" stroke-width="3.00" stroke-dasharray="3 4.95" stroke-linejoin="round"/>
<path d="M125.5,669.5 283.7,669.5 284.3,669.7 284.8,670.0 285.8,671.1 286.9,672.8 288.0,674.9 289.5,678.9 291.4,684.1 294.3,693.8 295.4,696.9 296.7,699.9 297.5,701.1 298.0,701.5 298.5,701.5 299.1,701.2 299.6,700.4 300.1,699.4 301.2,696.5 302.8,691.1 304.6,685.6 305.4,683.6 306.0,682.7 306.2,682.5 317.3,679.7 318.7,679.5 319.7,679.4 321.0,679.7 322.6,680.2 329.2,682.8 330.6,683.4 331.1,683.8 331.6,684.7 331.9,685.4 332.4,687.5 337.2,716.8 338.0,719.6 338.2,720.2 338.5,720.5 338.8,720.6 339.0,720.5 339.3,720.2 339.8,719.2 340.3,717.9 341.1,715.4 342.2,711.4 343.5,704.1 344.1,702.2 344.3,701.8 344.6,701.9 345.1,702.6 347.0,707.5 348.0,709.3 349.1,710.8 349.6,711.3 349.9,711.4 350.4,711.3 350.9,710.8 351.5,709.8 352.3,707.5 353.0,704.2 356.0,687.0 357.8,678.3 359.1,672.8 360.5,668.1 361.5,665.3 362.0,664.2 362.6,663.4 362.8,663.2 363.4,663.0 363.9,663.3 364.7,664.5 365.5,666.6 366.3,669.5 367.6,675.6 372.1,698.7 374.0,707.0 375.3,712.2 375.5,712.7 375.8,712.9 376.1,712.8 376.6,712.0 377.7,709.3 378.2,708.1 378.4,707.8 378.7,707.7 379.0,707.9 379.2,708.3 379.8,709.8 380.3,711.9 382.4,723.1 383.2,726.6 383.7,728.3 384.0,728.8 384.3,729.1 384.5,729.2 384.8,729.0 385.1,728.4 385.9,725.4 388.0,712.6 388.5,709.8 389.0,707.7 389.3,707.0 389.6,706.6 389.8,706.5 390.1,706.5 390.4,706.7 390.9,707.5 392.5,710.5 393.0,711.0 393.3,711.1 393.5,710.9 393.8,710.6 394.9,708.3 395.9,705.6 397.0,702.5 398.8,696.0 400.1,690.4 403.3,675.5 404.9,669.3 406.0,666.1 406.8,664.3 407.6,663.0 408.3,662.3 408.6,662.2 409.1,662.3 409.9,663.0 410.7,664.2 411.5,666.0 412.3,668.4 413.4,672.1 417.3,687.4 419.5,694.3 420.5,697.3 421.6,699.7 422.6,701.4 423.2,701.9 423.4,701.9 423.7,701.9 424.2,701.5 425.0,700.3 425.8,698.4 426.6,695.9 428.2,689.8 431.9,673.0 432.7,670.4 433.0,669.9 433.2,669.6 433.5,669.6 434.5,670.4 438.8,674.9 442.5,678.2 444.6,680.0 445.7,680.6 447.0,681.1 448.3,681.4 449.9,681.5 451.7,681.3 453.6,680.6 455.2,679.7 457.3,678.2 459.4,676.3 461.8,673.9 463.1,672.3 466.0,668.5 468.4,665.8 469.7,664.7 470.5,664.3 471.1,664.2 472.1,664.3 474.0,665.0 479.5,668.1 483.0,670.3 488.0,674.3 489.3,675.1 490.9,675.7 493.3,676.3 495.9,676.7 510.0,677.3 531.4,677.8 545.4,678.0 551.0,678.0 555.5,677.7 558.4,677.3 561.8,676.6 590.9,670.6 601.5,668.2" fill="none" stroke="#000" stroke-width="3.00" stroke-dasharray="3 4.95" stroke-linejoin="round"/>
</g>
<g clip-path="url(#cl12)">
<path d="M649.0,671.5 675.7,671.5 709.0,671.6 714.3,671.8 724.6,672.6 733.6,673.2 740.7,673.6 745.2,673.7 749.7,673.4 755.3,672.5 759.7,671.7 765.3,670.1 767.7,669.7 775.3,669.4 787.2,669.2 801.8,669.1 803.6,669.3 804.4,669.5 804.9,669.9 805.5,670.7 806.3,672.8 809.2,683.4 813.1,699.2 813.9,701.8 814.7,704.0 815.5,705.8 816.0,706.8 816.6,707.5 816.8,707.5 817.1,707.2 817.4,706.8 817.9,705.3 819.5,699.1 820.0,697.4 820.5,696.4 820.8,696.2 821.1,696.3 828.5,710.6 828.7,710.9 829.0,711.0 829.3,710.9 829.5,710.6 830.1,709.6 831.1,706.0 832.7,699.0 835.3,684.9 837.2,677.5 838.0,674.7 838.8,672.4 839.3,671.2 840.1,669.9 840.9,668.9 841.9,667.9 842.7,667.4 843.8,667.0 844.9,666.9 845.9,667.1 847.5,667.7 849.1,668.5 851.5,670.0 852.5,670.9 853.6,672.0 854.4,673.2 855.4,675.0 856.2,676.8 856.5,677.6 857.0,680.5 858.9,695.6 859.7,700.7 860.7,705.2 861.5,707.8 862.3,709.5 862.8,710.1 863.1,710.1 863.4,710.1 864.2,709.3 864.9,708.0 865.7,706.1 867.1,701.7 869.4,690.2 870.0,688.6 870.5,687.4 871.0,686.7 871.3,686.6 871.6,686.5 872.1,686.7 873.7,687.9 874.2,688.0 874.5,688.0 884.0,682.4 884.5,682.2 885.0,682.2 885.8,682.5 886.9,683.4 890.3,687.4 892.4,689.3 893.2,690.2 894.0,691.3 894.5,692.2 894.8,692.9 895.3,695.4 895.9,699.2 897.5,713.6 898.2,719.7 899.6,727.5 900.4,731.2 900.9,733.2 901.2,734.0 901.4,734.2 901.7,733.8 901.9,733.0 902.5,730.4 903.8,722.6 904.1,721.6 904.3,720.9 904.6,720.8 904.9,721.2 905.4,723.7 907.2,738.0 907.8,740.3 908.0,740.7 908.3,740.5 908.6,739.9 909.1,737.7 911.2,723.9 911.7,721.2 912.3,719.6 912.5,719.3 912.8,719.4 913.3,720.2 913.8,721.6 914.9,725.1 915.4,726.5 915.7,727.0 916.0,727.2 916.2,727.1 916.5,726.8 917.0,725.3 918.1,721.0 919.1,714.8 919.9,708.9 922.0,690.0 923.1,682.9 924.2,677.1 924.9,674.3 925.7,673.0 927.1,671.4 927.9,670.8 928.6,670.4 933.7,669.9 935.8,669.8 937.9,670.0 940.0,670.6 942.1,671.8 944.2,673.3 946.1,675.0 950.3,679.0 952.4,680.8 954.3,681.9 955.3,682.3 956.1,682.4 957.5,682.3 958.8,682.0 960.1,681.4 963.5,679.5 964.9,678.8 966.2,678.4 967.5,678.3 968.6,678.4 969.9,678.9 971.2,679.7 974.4,681.7 975.7,682.4 977.3,682.8 978.6,682.8 979.9,682.2 981.2,681.2 982.6,679.9 985.7,676.5 987.3,675.1 988.1,674.6 988.9,674.2 989.7,674.1 990.5,674.2 991.8,674.7 993.4,676.0 995.0,677.6 998.4,681.6 1000.0,683.1 1000.8,683.7 1001.6,684.1 1002.4,684.4 1002.9,684.4 1004.0,684.3 1005.3,683.8 1006.6,682.7 1007.9,681.2 1009.0,679.8 1010.1,678.0 1013.8,671.3 1015.1,669.0 1016.4,667.2 1017.7,665.6 1019.3,664.2 1020.9,663.2 1022.5,662.6 1024.3,662.3 1026.7,662.3 1029.3,662.8 1032.3,663.8 1035.2,665.1 1038.1,666.7 1041.0,668.6 1043.6,670.5 1049.4,675.1 1052.6,677.3 1054.2,678.2 1055.8,678.9 1057.4,679.4 1058.7,679.7 1060.3,679.7 1061.9,679.5 1063.4,678.9 1065.0,678.0 1066.6,677.0 1068.5,675.6 1075.6,669.3 1078.8,666.8 1080.6,665.6 1082.2,664.8 1083.8,664.3 1085.4,664.0 1086.7,664.0 1088.3,664.3 1089.9,664.8 1091.7,665.8 1093.3,666.9 1094.9,668.1 1101.8,673.9 1104.7,676.1 1106.3,677.2 1107.8,678.0 1109.2,678.6 1110.5,679.0 1112.1,679.3 1113.4,679.3 1115.0,679.0 1116.6,678.5 1118.2,677.7 1120.0,676.6 1124.5,673.3" fill="none" stroke="#add8e6" stroke-width="4.60" stroke-linejoin="round"/>
<path d="M649.0,666.3 675.7,666.3 709.0,666.2 714.3,666.0 724.6,665.2 733.6,664.6 740.7,664.2 745.2,664.1 749.7,664.4 755.3,665.3 759.7,666.1 765.3,667.7 767.7,668.1 775.3,668.4 787.2,668.6 801.8,668.7 803.6,668.5 804.4,668.3 804.9,667.9 805.5,667.1 806.3,665.0 809.2,654.4 813.1,638.6 813.9,636.0 814.7,633.8 815.5,632.0 816.0,631.0 816.6,630.3 816.8,630.3 817.1,630.6 817.4,631.0 817.9,632.5 819.5,638.7 820.0,640.4 820.5,641.4 820.8,641.6 821.1,641.5 828.5,627.2 828.7,626.9 829.0,626.8 829.3,626.9 829.5,627.2 830.1,628.2 831.1,631.8 832.7,638.8 835.3,652.9 837.2,660.3 838.0,663.1 838.8,665.4 839.3,666.6 840.1,667.9 840.9,668.9 841.9,669.9 842.7,670.4 843.8,670.8 844.9,670.9 845.9,670.7 847.5,670.1 849.1,669.3 851.5,667.8 852.5,666.9 853.6,665.8 854.4,664.6 855.4,662.8 856.2,661.0 856.5,660.2 857.0,657.3 858.9,642.2 859.7,637.1 860.7,632.6 861.5,630.0 862.3,628.3 862.8,627.7 863.1,627.7 863.4,627.7 864.2,628.5 864.9,629.8 865.7,631.7 867.1,636.1 869.4,647.6 870.0,649.2 870.5,650.4 871.0,651.1 871.3,651.2 871.6,651.3 872.1,651.1 873.7,649.9 874.2,649.8 874.5,649.8 884.0,655.4 884.5,655.6 885.0,655.6 885.8,655.3 886.9,654.4 890.3,650.4 892.4,648.5 893.2,647.6 894.0,646.5 894.5,645.6 894.8,644.9 895.3,642.4 895.9,638.6 897.5,624.2 898.2,618.1 899.6,610.3 900.4,606.6 900.9,604.6 901.2,603.8 901.4,603.6 901.7,604.0 901.9,604.8 902.5,607.4 903.8,615.2 904.1,616.2 904.3,616.9 904.6,617.0 904.9,616.6 905.4,614.1 907.2,599.8 907.8,597.5 908.0,597.1 908.3,597.3 908.6,597.9 909.1,600.1 911.2,613.9 911.7,616.6 912.3,618.2 912.5,618.5 912.8,618.4 913.3,617.6 913.8,616.2 914.9,612.7 915.4,611.3 915.7,610.8 916.0,610.6 916.2,610.7 916.5,611.0 917.0,612.5 918.1,616.8 919.1,623.0 919.9,628.9 922.0,647.8 923.1,654.9 924.2,660.7 924.9,663.5 925.7,664.8 927.1,666.4 927.9,667.0 928.6,667.4 933.7,667.9 935.8,668.0 937.9,667.8 940.0,667.2 942.1,666.0 944.2,664.5 946.1,662.8 950.3,658.8 952.4,657.0 954.3,655.9 955.3,655.5 956.1,655.4 957.5,655.5 958.8,655.8 960.1,656.4 963.5,658.3 964.9,659.0 966.2,659.4 967.5,659.5 968.6,659.4 969.9,658.9 971.2,658.1 974.4,656.1 975.7,655.4 977.3,655.0 978.6,655.0 979.9,655.6 981.2,656.6 982.6,657.9 985.7,661.3 987.3,662.7 988.1,663.2 988.9,663.6 989.7,663.7 990.5,663.6 991.8,663.1 993.4,661.8 995.0,660.2 998.4,656.2 1000.0,654.7 1000.8,654.1 1001.6,653.7 1002.4,653.4 1002.9,653.4 1004.0,653.5 1005.3,654.0 1006.6,655.1 1007.9,656.6 1009.0,658.0 1010.1,659.8 1013.8,666.5 1015.1,668.8 1016.4,670.6 1017.7,672.2 1019.3,673.6 1020.9,674.6 1022.5,675.2 1024.3,675.5 1026.7,675.5 1029.3,675.0 1032.3,674.0 1035.2,672.7 1038.1,671.1 1041.0,669.2 1043.6,667.3 1049.4,662.7 1052.6,660.5 1054.2,659.6 1055.8,658.9 1057.4,658.4 1058.7,658.1 1060.3,658.1 1061.9,658.3 1063.4,658.9 1065.0,659.8 1066.6,660.8 1068.5,662.2 1075.6,668.5 1078.8,671.0 1080.6,672.2 1082.2,673.0 1083.8,673.5 1085.4,673.8 1086.7,673.8 1088.3,673.5 1089.9,673.0 1091.7,672.0 1093.3,670.9 1094.9,669.7 1101.8,663.9 1104.7,661.7 1106.3,660.6 1107.8,659.8 1109.2,659.2 1110.5,658.8 1112.1,658.5 1113.4,658.5 1115.0,658.8 1116.6,659.3 1118.2,660.1 1120.0,661.2 1124.5,664.5" fill="none" stroke="#fa8072" stroke-width="4.60" stroke-linejoin="round"/>
<path d="M649.0,666.3 675.7,666.3 709.0,666.2 714.3,666.0 724.6,665.2 733.6,664.6 740.7,664.2 745.2,664.1 749.7,664.4 755.3,665.3 759.7,666.1 765.3,667.7 767.7,668.1 775.3,668.4 787.2,668.6 801.8,668.7 803.6,668.5 804.4,668.3 804.9,667.9 805.5,667.1 806.3,665.0 809.2,654.4 813.1,638.6 813.9,636.0 814.7,633.8 815.5,632.0 816.0,631.0 816.6,630.3 816.8,630.3 817.1,630.6 817.4,631.0 817.9,632.5 819.5,638.7 820.0,640.4 820.5,641.4 820.8,641.6 821.1,641.5 828.5,627.2 828.7,626.9 829.0,626.8 829.3,626.9 829.5,627.2 830.1,628.2 831.1,631.8 832.7,638.8 835.3,652.9 837.2,660.3 838.0,663.1 838.8,665.4 839.3,666.6 840.1,667.9 840.9,668.9 841.9,669.9 842.7,670.4 843.8,670.8 844.9,670.9 845.9,670.7 847.5,670.1 849.1,669.3 851.5,667.8 852.5,666.9 853.6,665.8 854.4,664.6 855.4,662.8 856.2,661.0 856.5,660.2 857.0,657.3 858.9,642.2 859.7,637.1 860.7,632.6 861.5,630.0 862.3,628.3 862.8,627.7 863.1,627.7 863.4,627.7 864.2,628.5 864.9,629.8 865.7,631.7 867.1,636.1 869.4,647.6 870.0,649.2 870.5,650.4 871.0,651.1 871.3,651.2 871.6,651.3 872.1,651.1 873.7,649.9 874.2,649.8 874.5,649.8 884.0,655.4 884.5,655.6 885.0,655.6 885.8,655.3 886.9,654.4 890.3,650.4 892.4,648.5 893.2,647.6 894.0,646.5 894.5,645.6 894.8,644.9 895.3,642.4 895.9,638.6 897.5,624.2 898.2,618.1 899.6,610.3 900.4,606.6 900.9,604.6 901.2,603.8 901.4,603.6 901.7,604.0 901.9,604.8 902.5,607.4 903.8,615.2 904.1,616.2 904.3,616.9 904.6,617.0 904.9,616.6 905.4,614.1 907.2,599.8 907.8,597.5 908.0,597.1 908.3,597.3 908.6,597.9 909.1,600.1 911.2,613.9 911.7,616.6 912.3,618.2 912.5,618.5 912.8,618.4 913.3,617.6 913.8,616.2 914.9,612.7 915.4,611.3 915.7,610.8 916.0,610.6 916.2,610.7 916.5,611.0 917.0,612.5 918.1,616.8 919.1,623.0 919.9,628.9 922.0,647.8 923.1,654.9 924.2,660.7 924.9,663.5 925.7,664.8 927.1,666.4 927.9,667.0 928.6,667.4 933.7,667.9 935.8,668.0 937.9,667.8 940.0,667.2 942.1,666.0 944.2,664.5 946.1,662.8 950.3,658.8 952.4,657.0 954.3,655.9 955.3,655.5 956.1,655.4 957.5,655.5 958.8,655.8 960.1,656.4 963.5,658.3 964.9,659.0 966.2,659.4 967.5,659.5 968.6,659.4 969.9,658.9 971.2,658.1 974.4,656.1 975.7,655.4 977.3,655.0 978.6,655.0 979.9,655.6 981.2,656.6 982.6,657.9 985.7,661.3 987.3,662.7 988.1,663.2 988.9,663.6 989.7,663.7 990.5,663.6 991.8,663.1 993.4,661.8 995.0,660.2 998.4,656.2 1000.0,654.7 1000.8,654.1 1001.6,653.7 1002.4,653.4 1002.9,653.4 1004.0,653.5 1005.3,654.0 1006.6,655.1 1007.9,656.6 1009.0,658.0 1010.1,659.8 1013.8,666.5 1015.1,668.8 1016.4,670.6 1017.7,672.2 1019.3,673.6 1020.9,674.6 1022.5,675.2 1024.3,675.5 1026.7,675.5 1029.3,675.0 1032.3,674.0 1035.2,672.7 1038.1,671.1 1041.0,669.2 1043.6,667.3 1049.4,662.7 1052.6,660.5 1054.2,659.6 1055.8,658.9 1057.4,658.4 1058.7,658.1 1060.3,658.1 1061.9,658.3 1063.4,658.9 1065.0,659.8 1066.6,660.8 1068.5,662.2 1075.6,668.5 1078.8,671.0 1080.6,672.2 1082.2,673.0 1083.8,673.5 1085.4,673.8 1086.7,673.8 1088.3,673.5 1089.9,673.0 1091.7,672.0 1093.3,670.9 1094.9,669.7 1101.8,663.9 1104.7,661.7 1106.3,660.6 1107.8,659.8 1109.2,659.2 1110.5,658.8 1112.1,658.5 1113.4,658.5 1115.0,658.8 1116.6,659.3 1118.2,660.1 1120.0,661.2 1124.5,664.5" fill="none" stroke="#000" stroke-width="3.00" stroke-dasharray="3 4.95" stroke-linejoin="round"/>
<path d="M649.0,671.5 675.7,671.5 709.0,671.6 714.3,671.8 724.6,672.6 733.6,673.2 740.7,673.6 745.2,673.7 749.7,673.4 755.3,672.5 759.7,671.7 765.3,670.1 767.7,669.7 775.3,669.4 787.2,669.2 801.8,669.1 803.6,669.3 804.4,669.5 804.9,669.9 805.5,670.7 806.3,672.8 809.2,683.4 813.1,699.2 813.9,701.8 814.7,704.0 815.5,705.8 816.0,706.8 816.6,707.5 816.8,707.5 817.1,707.2 817.4,706.8 817.9,705.3 819.5,699.1 820.0,697.4 820.5,696.4 820.8,696.2 821.1,696.3 828.5,710.6 828.7,710.9 829.0,711.0 829.3,710.9 829.5,710.6 830.1,709.6 831.1,706.0 832.7,699.0 835.3,684.9 837.2,677.5 838.0,674.7 838.8,672.4 839.3,671.2 840.1,669.9 840.9,668.9 841.9,667.9 842.7,667.4 843.8,667.0 844.9,666.9 845.9,667.1 847.5,667.7 849.1,668.5 851.5,670.0 852.5,670.9 853.6,672.0 854.4,673.2 855.4,675.0 856.2,676.8 856.5,677.6 857.0,680.5 858.9,695.6 859.7,700.7 860.7,705.2 861.5,707.8 862.3,709.5 862.8,710.1 863.1,710.1 863.4,710.1 864.2,709.3 864.9,708.0 865.7,706.1 867.1,701.7 869.4,690.2 870.0,688.6 870.5,687.4 871.0,686.7 871.3,686.6 871.6,686.5 872.1,686.7 873.7,687.9 874.2,688.0 874.5,688.0 884.0,682.4 884.5,682.2 885.0,682.2 885.8,682.5 886.9,683.4 890.3,687.4 892.4,689.3 893.2,690.2 894.0,691.3 894.5,692.2 894.8,692.9 895.3,695.4 895.9,699.2 897.5,713.6 898.2,719.7 899.6,727.5 900.4,731.2 900.9,733.2 901.2,734.0 901.4,734.2 901.7,733.8 901.9,733.0 902.5,730.4 903.8,722.6 904.1,721.6 904.3,720.9 904.6,720.8 904.9,721.2 905.4,723.7 907.2,738.0 907.8,740.3 908.0,740.7 908.3,740.5 908.6,739.9 909.1,737.7 911.2,723.9 911.7,721.2 912.3,719.6 912.5,719.3 912.8,719.4 913.3,720.2 913.8,721.6 914.9,725.1 915.4,726.5 915.7,727.0 916.0,727.2 916.2,727.1 916.5,726.8 917.0,725.3 918.1,721.0 919.1,714.8 919.9,708.9 922.0,690.0 923.1,682.9 924.2,677.1 924.9,674.3 925.7,673.0 927.1,671.4 927.9,670.8 928.6,670.4 933.7,669.9 935.8,669.8 937.9,670.0 940.0,670.6 942.1,671.8 944.2,673.3 946.1,675.0 950.3,679.0 952.4,680.8 954.3,681.9 955.3,682.3 956.1,682.4 957.5,682.3 958.8,682.0 960.1,681.4 963.5,679.5 964.9,678.8 966.2,678.4 967.5,678.3 968.6,678.4 969.9,678.9 971.2,679.7 974.4,681.7 975.7,682.4 977.3,682.8 978.6,682.8 979.9,682.2 981.2,681.2 982.6,679.9 985.7,676.5 987.3,675.1 988.1,674.6 988.9,674.2 989.7,674.1 990.5,674.2 991.8,674.7 993.4,676.0 995.0,677.6 998.4,681.6 1000.0,683.1 1000.8,683.7 1001.6,684.1 1002.4,684.4 1002.9,684.4 1004.0,684.3 1005.3,683.8 1006.6,682.7 1007.9,681.2 1009.0,679.8 1010.1,678.0 1013.8,671.3 1015.1,669.0 1016.4,667.2 1017.7,665.6 1019.3,664.2 1020.9,663.2 1022.5,662.6 1024.3,662.3 1026.7,662.3 1029.3,662.8 1032.3,663.8 1035.2,665.1 1038.1,666.7 1041.0,668.6 1043.6,670.5 1049.4,675.1 1052.6,677.3 1054.2,678.2 1055.8,678.9 1057.4,679.4 1058.7,679.7 1060.3,679.7 1061.9,679.5 1063.4,678.9 1065.0,678.0 1066.6,677.0 1068.5,675.6 1075.6,669.3 1078.8,666.8 1080.6,665.6 1082.2,664.8 1083.8,664.3 1085.4,664.0 1086.7,664.0 1088.3,664.3 1089.9,664.8 1091.7,665.8 1093.3,666.9 1094.9,668.1 1101.8,673.9 1104.7,676.1 1106.3,677.2 1107.8,678.0 1109.2,678.6 1110.5,679.0 1112.1,679.3 1113.4,679.3 1115.0,679.0 1116.6,678.5 1118.2,677.7 1120.0,676.6 1124.5,673.3" fill="none" stroke="#000" stroke-width="3.00" stroke-dasharray="3 4.95" stroke-linejoin="round"/>
</g>
<rect x="137.40" y="310.80" width="122.30" height="151.80" rx="4.5" ry="4.5" fill="#fff" fill-opacity="0.8" stroke="#d6d6d6" stroke-width="2"/>
<line x1="144.50" y1="367.30" x2="177.50" y2="367.30" stroke="#98df8a" stroke-width="4.00"/>
<line x1="144.50" y1="402.80" x2="177.50" y2="402.80" stroke="#d62728" stroke-width="4.00"/>
<line x1="144.50" y1="438.50" x2="177.50" y2="438.50" stroke="#9467bd" stroke-width="4.00"/>
<rect x="660.60" y="274.90" width="122.10" height="223.00" rx="4.5" ry="4.5" fill="#fff" fill-opacity="0.8" stroke="#d6d6d6" stroke-width="2"/>
<line x1="667.80" y1="331.20" x2="700.60" y2="331.20" stroke="#98df8a" stroke-width="4.00"/>
<line x1="667.80" y1="367.10" x2="700.60" y2="367.10" stroke="#d62728" stroke-width="4.00"/>
<line x1="667.80" y1="402.70" x2="700.60" y2="402.70" stroke="#9467bd" stroke-width="4.00"/>
<line x1="669.60" y1="438.30" x2="684.80" y2="438.30" stroke="#98df8a" stroke-width="4.00"/>
<line x1="691.00" y1="438.30" x2="698.80" y2="438.30" stroke="#98df8a" stroke-width="4.00"/>
<line x1="669.60" y1="474.40" x2="684.80" y2="474.40" stroke="#2ca02c" stroke-width="4.00"/>
<line x1="691.00" y1="474.40" x2="698.80" y2="474.40" stroke="#2ca02c" stroke-width="4.00"/>
<rect x="137.20" y="577.90" width="130.30" height="73.30" rx="4.5" ry="4.5" fill="#fff" fill-opacity="0.8" stroke="#d6d6d6" stroke-width="2"/>
<line x1="144.70" y1="595.50" x2="177.70" y2="595.50" stroke="#808080" stroke-width="4.40"/>
<line x1="146.30" y1="628.00" x2="172.30" y2="628.00" stroke="#000" stroke-width="4.50" stroke-dasharray="4.5 6.2"/>
<rect x="660.40" y="577.90" width="130.30" height="73.30" rx="4.5" ry="4.5" fill="#fff" fill-opacity="0.8" stroke="#d6d6d6" stroke-width="2"/>
<line x1="667.90" y1="595.50" x2="700.90" y2="595.50" stroke="#808080" stroke-width="4.40"/>
<line x1="669.50" y1="628.00" x2="695.50" y2="628.00" stroke="#000" stroke-width="4.50" stroke-dasharray="4.5 6.2"/>
<rect x="125.50" y="0.60" width="475.50" height="206.70" fill="none" stroke="#000" stroke-width="1.60"/>
<line x1="187.14" y1="207.30" x2="187.14" y2="214.30" stroke="#000" stroke-width="1.60"/>
<line x1="363.25" y1="207.30" x2="363.25" y2="214.30" stroke="#000" stroke-width="1.60"/>
<line x1="539.36" y1="207.30" x2="539.36" y2="214.30" stroke="#000" stroke-width="1.60"/>
<line x1="118.50" y1="186.63" x2="125.50" y2="186.63" stroke="#000" stroke-width="1.60"/>
<line x1="118.50" y1="103.95" x2="125.50" y2="103.95" stroke="#000" stroke-width="1.60"/>
<line x1="118.50" y1="21.27" x2="125.50" y2="21.27" stroke="#000" stroke-width="1.60"/>
<rect x="125.50" y="231.50" width="475.50" height="310.10" fill="none" stroke="#000" stroke-width="1.60"/>
<line x1="187.14" y1="541.60" x2="187.14" y2="548.60" stroke="#000" stroke-width="1.60"/>
<line x1="363.25" y1="541.60" x2="363.25" y2="548.60" stroke="#000" stroke-width="1.60"/>
<line x1="539.36" y1="541.60" x2="539.36" y2="548.60" stroke="#000" stroke-width="1.60"/>
<line x1="118.50" y1="532.69" x2="125.50" y2="532.69" stroke="#000" stroke-width="1.60"/>
<line x1="118.50" y1="386.62" x2="125.50" y2="386.62" stroke="#000" stroke-width="1.60"/>
<line x1="118.50" y1="240.56" x2="125.50" y2="240.56" stroke="#000" stroke-width="1.60"/>
<rect x="125.50" y="565.70" width="475.50" height="206.70" fill="none" stroke="#000" stroke-width="1.60"/>
<line x1="187.14" y1="772.40" x2="187.14" y2="779.40" stroke="#000" stroke-width="1.60"/>
<line x1="363.25" y1="772.40" x2="363.25" y2="779.40" stroke="#000" stroke-width="1.60"/>
<line x1="539.36" y1="772.40" x2="539.36" y2="779.40" stroke="#000" stroke-width="1.60"/>
<line x1="118.50" y1="772.40" x2="125.50" y2="772.40" stroke="#000" stroke-width="1.60"/>
<line x1="118.50" y1="669.05" x2="125.50" y2="669.05" stroke="#000" stroke-width="1.60"/>
<line x1="118.50" y1="565.70" x2="125.50" y2="565.70" stroke="#000" stroke-width="1.60"/>
<rect x="649.00" y="0.60" width="475.50" height="206.70" fill="none" stroke="#000" stroke-width="1.60"/>
<line x1="710.64" y1="207.30" x2="710.64" y2="214.30" stroke="#000" stroke-width="1.60"/>
<line x1="886.75" y1="207.30" x2="886.75" y2="214.30" stroke="#000" stroke-width="1.60"/>
<line x1="1062.86" y1="207.30" x2="1062.86" y2="214.30" stroke="#000" stroke-width="1.60"/>
<line x1="642.00" y1="186.63" x2="649.00" y2="186.63" stroke="#000" stroke-width="1.60"/>
<line x1="642.00" y1="103.95" x2="649.00" y2="103.95" stroke="#000" stroke-width="1.60"/>
<line x1="642.00" y1="21.27" x2="649.00" y2="21.27" stroke="#000" stroke-width="1.60"/>
<rect x="649.00" y="231.50" width="475.50" height="310.10" fill="none" stroke="#000" stroke-width="1.60"/>
<line x1="710.64" y1="541.60" x2="710.64" y2="548.60" stroke="#000" stroke-width="1.60"/>
<line x1="886.75" y1="541.60" x2="886.75" y2="548.60" stroke="#000" stroke-width="1.60"/>
<line x1="1062.86" y1="541.60" x2="1062.86" y2="548.60" stroke="#000" stroke-width="1.60"/>
<line x1="642.00" y1="532.69" x2="649.00" y2="532.69" stroke="#000" stroke-width="1.60"/>
<line x1="642.00" y1="386.62" x2="649.00" y2="386.62" stroke="#000" stroke-width="1.60"/>
<line x1="642.00" y1="240.56" x2="649.00" y2="240.56" stroke="#000" stroke-width="1.60"/>
<rect x="649.00" y="565.70" width="475.50" height="206.70" fill="none" stroke="#000" stroke-width="1.60"/>
<line x1="710.64" y1="772.40" x2="710.64" y2="779.40" stroke="#000" stroke-width="1.60"/>
<line x1="886.75" y1="772.40" x2="886.75" y2="779.40" stroke="#000" stroke-width="1.60"/>
<line x1="1062.86" y1="772.40" x2="1062.86" y2="779.40" stroke="#000" stroke-width="1.60"/>
<line x1="642.00" y1="772.40" x2="649.00" y2="772.40" stroke="#000" stroke-width="1.60"/>
<line x1="642.00" y1="669.05" x2="649.00" y2="669.05" stroke="#000" stroke-width="1.60"/>
<line x1="642.00" y1="565.70" x2="649.00" y2="565.70" stroke="#000" stroke-width="1.60"/>
<line x1="350.20" y1="878" x2="366.20" y2="829.8" stroke="#000" stroke-width="2.3"/>
<line x1="873.20" y1="878" x2="889.20" y2="829.8" stroke="#000" stroke-width="2.3"/>
<line x1="7.4" y1="121.6" x2="53.7" y2="139.4" stroke="#000" stroke-width="2.2"/>
<g transform="translate(92.78,35.20) scale(0.9625,1.0154)"><text x="0" y="0" font-size="40">2</text></g>
<g transform="translate(92.20,118.80) scale(1.0000,1.0654)"><text x="0" y="0" font-size="40">0</text></g>
<g transform="translate(62.94,200.90) scale(1.1789,1.0346)"><text x="0" y="0" font-size="40">−2</text></g>
<g transform="translate(62.96,254.70) scale(0.9841,1.0538)"><text x="0" y="0" font-size="40">1.0</text></g>
<g transform="translate(63.35,401.00) scale(0.9739,1.0500)"><text x="0" y="0" font-size="40">0.5</text></g>
<g transform="translate(63.33,546.90) scale(0.9848,1.0577)"><text x="0" y="0" font-size="40">0.0</text></g>
<g transform="translate(62.96,580.10) scale(0.9841,1.0538)"><text x="0" y="0" font-size="40">1.0</text></g>
<g transform="translate(63.35,683.20) scale(0.9739,1.0500)"><text x="0" y="0" font-size="40">0.5</text></g>
<g transform="translate(63.33,787.30) scale(0.9870,1.0654)"><text x="0" y="0" font-size="40">0.0</text></g>
<g transform="translate(163.67,814.00) scale(1.1658,1.0000)"><text x="0" y="0" font-size="40">−2</text></g>
<g transform="translate(352.70,814.80) scale(1.0500,1.0654)"><text x="0" y="0" font-size="40">0</text></g>
<g transform="translate(529.78,814.00) scale(0.9625,1.0000)"><text x="0" y="0" font-size="40">2</text></g>
<g transform="translate(687.17,814.00) scale(1.1658,1.0000)"><text x="0" y="0" font-size="40">−2</text></g>
<g transform="translate(876.20,814.80) scale(1.0500,1.0654)"><text x="0" y="0" font-size="40">0</text></g>
<g transform="translate(1053.28,814.00) scale(0.9625,1.0000)"><text x="0" y="0" font-size="40">2</text></g>
<g transform="translate(325.98,866.92) scale(1.4400,1.2160)"><text style="stroke-width:1.10px" x="0" y="0" font-size="47"><tspan font-style="italic">t</tspan></text></g>
<g transform="translate(365.95,865.20) scale(1.3125,1.0548)"><text style="stroke-width:1.10px" x="0" y="0" font-size="47"><tspan font-style="italic">T</tspan></text></g>
<g transform="translate(848.98,866.92) scale(1.4400,1.2160)"><text style="stroke-width:1.10px" x="0" y="0" font-size="47"><tspan font-style="italic">t</tspan></text></g>
<g transform="translate(888.95,865.20) scale(1.3125,1.0548)"><text style="stroke-width:1.10px" x="0" y="0" font-size="47"><tspan font-style="italic">T</tspan></text></g>
<g transform="translate(42.70,181.32) scale(1.0613,1.4083)"><g transform="rotate(-90)"><text style="stroke-width:1.10px" x="0" y="0" font-size="47"><tspan font-style="italic">E</tspan></text></g></g>
<g transform="translate(44.95,116.66) scale(1.2308,1.0818)"><g transform="rotate(-90)"><text style="stroke-width:1.10px" x="0" y="0" font-size="47">(</text></g></g>
<g transform="translate(43.30,101.62) scale(1.0500,1.2579)"><g transform="rotate(-90)"><text style="stroke-width:1.10px" x="0" y="0" font-size="47"><tspan font-style="italic">ħ</tspan></text></g></g>
<g transform="translate(44.33,79.55) scale(1.0286,1.0241)"><g transform="rotate(-90)"><text style="stroke-width:1.10px" x="0" y="0" font-size="47"><tspan font-style="italic">ω</tspan></text></g></g>
<g transform="translate(44.00,45.76) scale(1.2000,0.9818)"><g transform="rotate(-90)"><text style="stroke-width:1.10px" x="0" y="0" font-size="47">)</text></g></g>
<g transform="translate(40.95,478.40) scale(1.1610,2.7000)"><g transform="rotate(-90)"><text style="stroke-width:1.10px" x="0" y="0" font-size="47">|</text></g></g>
<g transform="translate(41.21,459.89) scale(1.1100,0.9944)"><g transform="rotate(-90)"><text style="stroke-width:1.10px" x="0" y="0" font-size="47"><tspan font-style="italic">c</tspan></text></g></g>
<g transform="translate(49.88,437.87) scale(0.8769,0.8364)"><g transform="rotate(-90)"><text style="stroke-width:1.10px" x="0" y="0" font-size="47">(</text></g></g>
<g transform="translate(49.43,427.04) scale(0.7250,0.5684)"><g transform="rotate(-90)"><text style="stroke-width:1.10px" x="0" y="0" font-size="47"><tspan font-style="italic">b</tspan></text></g></g>
<g transform="translate(48.62,413.58) scale(0.9300,0.9600)"><g transform="rotate(-90)"><text style="stroke-width:1.10px" x="0" y="0" font-size="47">,</text></g></g>
<g transform="translate(48.70,406.05) scale(0.7438,0.9500)"><g transform="rotate(-90)"><text style="stroke-width:1.10px" x="0" y="0" font-size="47"><tspan font-style="italic">l</tspan></text></g></g>
<g transform="translate(49.20,393.77) scale(0.8550,0.7364)"><g transform="rotate(-90)"><text style="stroke-width:1.10px" x="0" y="0" font-size="47">)</text></g></g>
<g transform="translate(41.64,377.57) scale(1.2205,0.9364)"><g transform="rotate(-90)"><text style="stroke-width:1.10px" x="0" y="0" font-size="47">(</text></g></g>
<g transform="translate(41.32,365.65) scale(1.2160,1.3500)"><g transform="rotate(-90)"><text style="stroke-width:1.10px" x="0" y="0" font-size="47"><tspan font-style="italic">t</tspan></text></g></g>
<g transform="translate(40.69,346.17) scale(1.1900,0.9364)"><g transform="rotate(-90)"><text style="stroke-width:1.10px" x="0" y="0" font-size="47">)</text></g></g>
<g transform="translate(40.95,335.00) scale(1.1610,2.7000)"><g transform="rotate(-90)"><text style="stroke-width:1.10px" x="0" y="0" font-size="47">|</text></g></g>
<g transform="translate(22.70,316.50) scale(0.7400,0.7500)"><g transform="rotate(-90)"><text style="stroke-width:1.10px" x="0" y="0" font-size="47">2</text></g></g>
<g transform="translate(45.87,740.90) scale(1.1585,2.4000)"><g transform="rotate(-90)"><text style="stroke-width:1.10px" x="0" y="0" font-size="47">|</text></g></g>
<g transform="translate(43.82,726.30) scale(1.1649,1.2000)"><g transform="rotate(-90)"><text style="stroke-width:1.10px" x="0" y="0" font-size="47"><tspan font-style="italic">ψ</tspan></text></g></g>
<g transform="translate(51.90,695.96) scale(0.7467,1.0875)"><g transform="rotate(-90)"><text style="stroke-width:1.10px" x="0" y="0" font-size="47"><tspan font-style="italic">i</tspan></text></g></g>
<g transform="translate(46.38,677.92) scale(1.2154,0.9091)"><g transform="rotate(-90)"><text style="stroke-width:1.10px" x="0" y="0" font-size="47">(</text></g></g>
<g transform="translate(46.32,667.01) scale(1.2200,1.3700)"><g transform="rotate(-90)"><text style="stroke-width:1.10px" x="0" y="0" font-size="47"><tspan font-style="italic">t</tspan></text></g></g>
<g transform="translate(45.44,646.92) scale(1.1850,0.9091)"><g transform="rotate(-90)"><text style="stroke-width:1.10px" x="0" y="0" font-size="47">)</text></g></g>
<g transform="translate(45.70,634.30) scale(1.1561,2.3000)"><g transform="rotate(-90)"><text style="stroke-width:1.10px" x="0" y="0" font-size="47">|</text></g></g>
<g transform="translate(27.40,617.48) scale(0.7467,0.7389)"><g transform="rotate(-90)"><text style="stroke-width:1.10px" x="0" y="0" font-size="47">2</text></g></g>
<g transform="translate(531.96,42.82) scale(1.1213,1.1308)"><text x="0" y="0" font-size="44">(<tspan font-weight="bold">a</tspan>)</text></g>
<g transform="translate(1054.73,43.05) scale(1.1340,1.0950)"><text x="0" y="0" font-size="44">(<tspan font-weight="bold">b</tspan>)</text></g>
<g transform="translate(532.02,294.59) scale(1.1378,1.1231)"><text x="0" y="0" font-size="44">(<tspan font-weight="bold">c</tspan>)</text></g>
<g transform="translate(1054.73,294.54) scale(1.1340,1.0950)"><text x="0" y="0" font-size="44">(<tspan font-weight="bold">d</tspan>)</text></g>
<g transform="translate(531.70,607.80) scale(1.1489,1.1333)"><text x="0" y="0" font-size="44">(<tspan font-weight="bold">e</tspan>)</text></g>
<g transform="translate(1053.41,608.05) scale(1.2925,1.1050)"><text x="0" y="0" font-size="44">(<tspan font-weight="bold">f</tspan>)</text></g>
<g transform="translate(174.01,339.65) scale(0.9894,1.1909)"><text x="0" y="0" font-size="26">(<tspan font-style="italic">b</tspan>,&#8201;<tspan font-style="italic">l</tspan>)</text></g>
<g transform="translate(696.91,304.59) scale(0.9894,1.1227)"><text x="0" y="0" font-size="26">(<tspan font-style="italic">b</tspan>,&#8201;<tspan font-style="italic">l</tspan>)</text></g>
<g transform="translate(194.89,377.20) scale(1.0077,1.2667)"><text x="0" y="0" font-size="24">(0,-1)</text></g>
<g transform="translate(194.89,412.70) scale(1.0136,1.2667)"><text x="0" y="0" font-size="24">(0,0)</text></g>
<g transform="translate(194.89,448.40) scale(1.0136,1.2667)"><text x="0" y="0" font-size="24">(0,1)</text></g>
<g transform="translate(717.39,341.10) scale(1.0077,1.2667)"><text x="0" y="0" font-size="24">(0,-1)</text></g>
<g transform="translate(717.39,377.00) scale(1.0136,1.2667)"><text x="0" y="0" font-size="24">(0,0)</text></g>
<g transform="translate(717.39,412.60) scale(1.0136,1.2667)"><text x="0" y="0" font-size="24">(0,1)</text></g>
<g transform="translate(717.39,448.20) scale(1.0077,1.2667)"><text x="0" y="0" font-size="24">(1,-1)</text></g>
<g transform="translate(717.39,484.30) scale(1.0077,1.2667)"><text x="0" y="0" font-size="24">(1,-2)</text></g>
<g transform="translate(193.78,605.00) scale(1.2195,1.0200)"><text x="0" y="0" font-size="24"><tspan font-style="italic">t</tspan> − <tspan font-style="italic">t</tspan>′</text></g>
<g transform="translate(193.90,637.70) scale(1.1000,1.1133)"><text x="0" y="0" font-size="24">TDSE</text></g>
<g transform="translate(717.18,605.00) scale(1.2195,1.0200)"><text x="0" y="0" font-size="24"><tspan font-style="italic">t</tspan> − <tspan font-style="italic">t</tspan>′</text></g>
<g transform="translate(717.30,637.70) scale(1.1000,1.1133)"><text x="0" y="0" font-size="24">TDSE</text></g></svg></body></html>
